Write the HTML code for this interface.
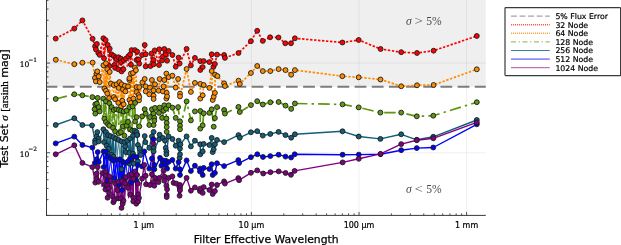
<!DOCTYPE html>
<html><head><meta charset="utf-8"><title>Test Set sigma vs Filter Effective Wavelength</title>
<style>html,body{margin:0;padding:0;background:#fff;width:621px;height:245px;overflow:hidden}svg{display:block}</style>
</head><body>
<svg width="621" height="245" viewBox="0 0 621 245">
<rect x="46.5" y="0" width="439.3" height="86.75" fill="#efefef"/>
<line x1="143.8" y1="0" x2="143.8" y2="215.4" stroke="#000000" stroke-opacity="0.075" stroke-width="0.8"/>
<line x1="251.4" y1="0" x2="251.4" y2="215.4" stroke="#000000" stroke-opacity="0.075" stroke-width="0.8"/>
<line x1="359" y1="0" x2="359" y2="215.4" stroke="#000000" stroke-opacity="0.075" stroke-width="0.8"/>
<line x1="466.6" y1="0" x2="466.6" y2="215.4" stroke="#000000" stroke-opacity="0.075" stroke-width="0.8"/>
<line x1="46.5" y1="63.05" x2="485.8" y2="63.05" stroke="#000000" stroke-opacity="0.075" stroke-width="0.8"/>
<line x1="46.5" y1="152.75" x2="485.8" y2="152.75" stroke="#000000" stroke-opacity="0.075" stroke-width="0.8"/>
<line x1="46.5" y1="86.75" x2="485.8" y2="86.75" stroke="#7c7c7c" stroke-width="2.1" stroke-dasharray="11.8 5.37" stroke-dashoffset="0.95"/>
<path d="M100.5 46.88 L103.5 58.8 L106.5 42.75 L109.5 65.4 L112.5 55.19 L115.5 68.06 L118.5 57.44 L121.5 69.58 L124.5 56.88 L127.5 67.08 L130.5 52.25 L133.5 62.08" fill="none" stroke="#ff0000" stroke-width="1.36" stroke-opacity="0.85" stroke-linejoin="round" stroke-dasharray="2.4 1.6"/>
<path d="M55.7 38.6 L74.3 28.6 L82.4 20.4 L92.6 38.8 L95.1 46.3 L95.9 49.4 L96.9 44 L98.3 53 L99.7 54.9 L103.4 38.3 L104 58.3 L105.6 40.1 L107.7 44.9 L109.4 66.1 L109.7 48.7 L111.6 54.4 L113.7 55.9 L114.4 65 L115.1 67.9 L115.9 57.3 L116.6 59.3 L118.3 69.3 L118.7 57.3 L120.9 58.7 L120.9 62.1 L121.6 71.4 L123.4 69.3 L123.7 60.1 L125.9 58.7 L128.3 56.3 L130.1 54.4 L130.9 64.7 L131.6 50.1 L134.9 50.1 L136.6 60 L137.2 51.7 L138.3 59.6 L139.2 63.7 L142.1 55 L144.7 45 L145.7 54.3 L145.7 66.4 L150.4 66.1 L151.4 53.6 L153.6 64.3 L153.6 60 L154.7 50.4 L159 65 L159.3 49.3 L162.1 60.4 L162.9 56.4 L164.3 49 L165.7 54.3 L167.1 60.7 L168.6 51 L172.4 55 L175.7 66.7 L178.6 57.6 L179.6 63.6 L186.6 48.9 L190.9 65.4 L194.9 57.9 L200.3 61.1 L200.3 70 L202.7 67.1 L203.7 61.1 L209.4 62.1 L211.7 54.3 L213.4 66.9 L214.9 64 L217 54.6 L224.1 55 L224.9 57.9 L238.5 53 L250.9 41.2 L257.2 30.8 L262.8 40.9 L270.1 37.3 L278.5 37.5 L285.3 43.3 L291 43.3 L294.9 38.3 L342.4 42.5 L358.7 40 L380.6 49 L401.2 52.2 L417 53 L433.6 50.7 L476.8 36" fill="none" stroke="#ff0000" stroke-width="1.7" stroke-linejoin="round" stroke-dasharray="2.4 1.6"/>
<path d="M101.5 64.9 L104.6 92.57 L107.7 67.4 L110.8 96.6 L113.9 81.36 L117 100.14 L120.1 85.02 L123.2 102.7 L126.3 84.44 L129.4 101.15 L132.5 75.71 L135.6 96.2" fill="none" stroke="#ff8c00" stroke-width="1.36" stroke-opacity="0.85" stroke-linejoin="round" stroke-dasharray="2.4 1.6"/>
<path d="M55.8 59.8 L74.3 64.2 L82.4 62.7 L92.6 62.6 L94.9 77.9 L95.9 81.4 L96.6 73.6 L97.3 71.4 L98.7 76.4 L99.7 82.1 L103.4 65.3 L104.4 88.6 L105.9 63.3 L105.9 90.7 L107.3 69.3 L107.3 93.6 L109.1 98.1 L109.7 71.9 L110.9 83.6 L113.7 85 L113.7 97.1 L115.1 99.3 L116.6 84.3 L118.3 102.9 L118.7 87.9 L119.4 82.1 L121.1 106.4 L121.6 84.3 L122.3 100.7 L123 89.3 L123.7 104.3 L124.9 85.7 L125.4 91.4 L128 86.4 L129.4 80 L129.4 78.3 L129.4 100 L130.9 73.6 L130.9 102.9 L133 72.9 L133.4 98.6 L134.9 67.6 L135.9 70.2 L136.6 92.1 L136.6 87.1 L138.6 95 L139 100.4 L139.3 87.1 L139.3 97.1 L142.4 82.4 L144.7 79 L145.7 86.4 L145.7 91.4 L149.3 94.3 L150 87.6 L151.9 80 L153.6 90.4 L153.6 95.7 L153.6 99 L155 84.3 L158.6 90.7 L159.6 79 L162.9 91.4 L163.6 86.4 L164.3 80 L166.4 73.6 L166.4 98.6 L166.7 92.9 L167.1 96.4 L168.6 77.1 L172.4 75.7 L175.7 87.6 L178.1 79 L180 93.6 L180 96.4 L186.6 69 L190.9 91.9 L194.9 82.9 L200.3 83.9 L200.3 98.6 L202.7 95.3 L203.7 85 L209.4 87.9 L211.7 71 L212.7 100 L213.7 96.7 L214.9 92.9 L215.1 74.7 L217.4 76.1 L224.1 83.3 L224.9 86.1 L238.5 80.7 L239.8 84 L250.9 73 L257.2 66 L262.8 71.1 L270.3 71.1 L278.6 69.1 L285.5 70.1 L291.2 74.7 L294.9 70.1 L342.3 76.2 L358.7 77.3 L380.5 79.5 L401.2 86.3 L417 85.3 L433.6 85 L476.8 69.3" fill="none" stroke="#ff8c00" stroke-width="1.7" stroke-linejoin="round" stroke-dasharray="2.4 1.6"/>
<path d="M101 99 L103.1 119.87 L105.2 101.33 L107.3 123.6 L109.4 103.67 L111.5 127.31 L113.6 106.16 L115.7 130.99 L117.8 108.68 L119.9 133 L122 109.4 L124.1 133 L126.2 108.14 L128.3 131.59 L130.4 106.8 L132.5 130.5 L134.6 104.7" fill="none" stroke="#5e9610" stroke-width="1.36" stroke-opacity="0.85" stroke-linejoin="round" stroke-dasharray="11.5 4.2 2.4 4.2"/>
<path d="M55.7 99 L74.3 94.3 L82.4 95.3 L92.4 97.1 L94.6 109.3 L95.3 104.3 L95.3 113.6 L96.9 103.6 L97.7 97.9 L98.7 107.1 L99.7 111.4 L103.4 98.6 L104.4 118.6 L105.9 101.4 L105.9 122.1 L108 124.3 L109.4 103.3 L109.4 125.7 L111.6 107.1 L113 127.9 L113.7 110 L115.1 131.4 L116.3 109.3 L118.7 110 L118.7 133.6 L120.9 132.1 L121.1 110.7 L123 126.4 L123.7 111.4 L124.4 135.7 L126.6 110.7 L126.6 125.7 L128 121.9 L129.4 107.1 L130.1 129.3 L132.3 130.7 L132.6 106.4 L135.1 102.9 L135.1 121.4 L136.6 117.1 L137.3 135 L139.3 126.4 L142.1 116.4 L144.7 109.3 L145.7 113.6 L149.3 125 L150 117.1 L151.9 109.3 L153.6 113.6 L153.6 125 L154.3 117.9 L154.3 120.7 L155 107.9 L159 112.9 L159.6 107.6 L162.1 117.9 L163.6 110.7 L164.3 105.3 L166.1 108.6 L166.4 118.6 L166.7 122.9 L166.7 127.1 L166.7 131.9 L168.6 105.3 L172.4 107.6 L175.7 117.9 L178.1 107.1 L180 121.4 L180 125.7 L180 129.3 L186.6 101.4 L190.9 120.4 L194.9 111.4 L200.3 111 L200.3 128.6 L202.7 125.3 L203.7 113.3 L209.4 112.9 L211.7 109.3 L213.7 126.7 L214.9 118.1 L217 107.1 L224.1 110 L224.9 113.6 L238.5 106.9 L239.8 112 L250.9 105.1 L257.2 101.2 L262.8 104.5 L270.3 102.3 L278.6 102 L285.5 105.6 L291.2 108.9 L294.9 103.5 L342.5 104.4 L358.7 107.4 L380.4 112.6 L401.2 112.6 L416.8 116.3 L433.3 115.7 L476.8 102.2" fill="none" stroke="#5e9610" stroke-width="1.7" stroke-linejoin="round" stroke-dasharray="11.5 4.2 2.4 4.2"/>
<path d="M107 137.5 L108.45 151.74 L109.9 137.86 L111.35 155.22 L112.8 138.22 L114.25 156.28 L115.7 138.69 L117.15 156.64 L118.6 139.5 L120.05 156.99 L121.5 140.31 L122.95 156.63 L124.4 140.94 L125.85 156.27 L127.3 140.53 L128.75 155 L130.2 140.11" fill="none" stroke="#135e7a" stroke-width="1.12" stroke-opacity="0.7" stroke-linejoin="round"/>
<path d="M55.7 125 L74.3 118.3 L82.4 125 L92 125.4 L95.1 140.4 L95.1 142.9 L96.6 136.4 L97.3 132.1 L98.7 138.6 L98.7 141.4 L103.4 129.3 L104 142.1 L105.9 132.1 L106.6 145.7 L108 135 L108.5 153.7 L108.7 148.6 L110.6 136.1 L111.5 154.8 L113.4 137.1 L113.4 156.7 L114.9 159.3 L115.9 138.6 L118.7 140 L121.6 141.4 L121.6 169.3 L124.4 142.1 L125.1 146.4 L125.9 152.1 L127.3 140.7 L129.4 152.9 L129.4 163.6 L130.1 138.6 L130.9 159.3 L133 135.7 L133 153.6 L133.7 163.6 L134.4 130.7 L136.6 132.1 L137.1 135 L137.9 145 L137.9 161.4 L139.6 148.6 L140.7 155 L144.7 136.1 L145.3 142.1 L149.3 147.9 L151.9 136.4 L153.6 131.9 L153.6 147.9 L153.6 151.4 L159 139.3 L159.6 134.7 L162.9 137.9 L165 140.7 L165.7 147.9 L166.4 151.4 L166.4 154.3 L168.6 136.4 L172.4 139 L175.7 145.7 L178.6 140.7 L179.6 157.9 L180 148.6 L180 154.3 L180.4 144.3 L186.6 136.4 L190.9 146.4 L194.9 140.7 L200.3 144.3 L200.3 154.3 L202.7 151.4 L203.7 143.9 L209.4 145 L211.7 137.9 L212.7 152.1 L213.7 149.3 L214.9 144.3 L217 140 L224.1 142.1 L238.5 135.1 L239.8 137.7 L250.9 132.3 L257.2 131.2 L262.8 135.6 L270.3 134 L278.6 131.9 L285.5 135.1 L291.2 137.7 L294.9 134.3 L342.5 131.3 L358.7 136.5 L380.4 138.9 L401.2 134.3 L416.8 139.8 L433.3 136.8 L476.8 120" fill="none" stroke="#135e7a" stroke-width="1.4" stroke-linejoin="round"/>
<path d="M103 152 L104.9 170.44 L106.8 155.8 L108.7 175.33 L110.6 158.49 L112.5 177.75 L114.4 160.66 L116.3 178.89 L118.2 161.32 L120.1 180 L122 161.7 L123.9 180 L125.8 161.56 L127.7 180 L129.6 159.44 L131.5 178.12 L133.4 157.33" fill="none" stroke="#0000ff" stroke-width="1.12" stroke-opacity="0.85" stroke-linejoin="round"/>
<path d="M55.7 143.4 L74.3 136.6 L82.4 145 L92.4 147.6 L94.9 162.9 L96.6 159.3 L97.7 152.1 L98.7 162.1 L103.7 151.4 L103.7 167.1 L105.9 151.4 L107.6 180.3 L108 156.4 L110.9 158.6 L113.4 160.7 L114.4 178 L116.6 160 L119 184.8 L119.7 159.3 L122 190.1 L122.3 161.4 L123.5 178 L125.1 162.9 L128 161.4 L130.1 158.6 L131 182.6 L133.7 156.4 L136.4 157.1 L136.4 180.7 L137.9 165 L142.1 166.4 L144.3 151.4 L149.3 168.6 L151.9 158.6 L153.3 139.3 L154.3 165 L154.3 169.3 L160 157.9 L161.4 165.7 L162.9 160.4 L165 165 L165.7 160.7 L167.1 168.6 L168.6 161.9 L172.4 160 L175.7 168.6 L178.6 162.1 L180 169.3 L180 175 L186.6 160.4 L190.9 171 L194.9 165.7 L199.9 171.4 L200.3 168.6 L202.7 175 L203.7 167.9 L209.4 169 L211.7 164.3 L212.7 175 L214.9 172.9 L217 163.3 L224.1 166.1 L238.3 160.1 L239.1 163.1 L250.9 157.2 L257.3 154.3 L263 157 L270.3 156.1 L278.6 154.7 L285.5 156.6 L291.1 157.5 L294.7 154.3 L342.6 154.7 L358.8 154.6 L380.5 154.2 L401.2 150.2 L416.8 148.1 L433.3 147.5 L476.8 124.3" fill="none" stroke="#0000ff" stroke-width="1.4" stroke-linejoin="round"/>
<path d="M100 170 L101.9 186.61 L103.8 172.28 L105.7 191.84 L107.6 174.56 L109.5 195.86 L111.4 176.56 L113.3 198.03 L115.2 178.08 L117.1 199.9 L119 179.6 L120.9 201.53 L122.8 179.16 L124.7 200.31 L126.6 178.02 L128.5 197.94 L130.4 176.67 L132.3 197.77 L134.2 173.5" fill="none" stroke="#800080" stroke-width="1.12" stroke-opacity="0.85" stroke-linejoin="round"/>
<path d="M55.7 154.3 L74.3 145.3 L82.4 162.9 L92.4 167.1 L95.3 182.6 L96.3 178.8 L96.6 173.6 L97.7 167.1 L98.6 181.8 L103 172.9 L104.6 184.8 L105.4 189.4 L105.9 172.1 L105.9 175.7 L107.3 185.6 L107.6 197.7 L108.4 188.6 L109.1 193.1 L109.4 176.4 L110.7 181 L112.9 196.9 L113.4 202.2 L114.4 199.9 L115.2 183.3 L117.5 190.1 L118.2 198.4 L118.2 181.8 L120.5 198.4 L121.5 207.9 L122 181 L122.7 203.7 L123.5 200.7 L125 183.3 L125.9 177.1 L128 187.8 L129.4 175 L130.3 194.6 L131.6 174.3 L133.3 197.7 L133.3 201.4 L133.3 178.8 L135.1 171.4 L136.3 203.7 L137.1 175 L137.9 183.6 L138.1 194.3 L138.1 201.4 L139 197.9 L142.1 178.6 L144.3 165 L145.7 175.7 L146.1 184.3 L150 185 L151.9 174.3 L153.3 143.6 L153.6 182.1 L154.3 185.7 L155 177.9 L158.6 182.1 L159.3 177.9 L163.6 170.7 L164.3 176.4 L164.3 180.7 L166.4 185.7 L166.7 195 L166.7 197.1 L167.1 189.3 L168.6 177.9 L172.4 176.4 L173.6 182.9 L176.4 183.6 L179.6 195.7 L180 185 L180 187.9 L180 190.3 L186.6 177.9 L190.9 190.7 L194.9 187.4 L199.9 191.1 L200.3 188.6 L202.7 192.9 L203.7 187.1 L209.4 190 L211.7 184.5 L212.7 194 L214.9 191.1 L217 185 L224.1 181.4 L224.9 183.6 L238.3 178.1 L239.1 180.2 L250.9 172.8 L257.2 170.4 L263.2 173.5 L270.4 172.2 L278.7 171.4 L285.6 173 L291 174.8 L294.6 170.9 L342.6 162.4 L358.8 158.8 L380.5 153.9 L401.2 144.1 L416.8 140.2 L433.3 138.3 L476.8 122.4" fill="none" stroke="#800080" stroke-width="1.4" stroke-linejoin="round"/>
<circle cx="55.7" cy="38.6" r="2.45" fill="#ff0000" stroke="#1a1a1a" stroke-width="0.9"/>
<circle cx="74.3" cy="28.6" r="2.45" fill="#ff0000" stroke="#1a1a1a" stroke-width="0.9"/>
<circle cx="82.4" cy="20.4" r="2.45" fill="#ff0000" stroke="#1a1a1a" stroke-width="0.9"/>
<circle cx="92.6" cy="38.8" r="2.45" fill="#ff0000" stroke="#1a1a1a" stroke-width="0.9"/>
<circle cx="95.1" cy="46.3" r="2.45" fill="#ff0000" stroke="#1a1a1a" stroke-width="0.9"/>
<circle cx="95.9" cy="49.4" r="2.45" fill="#ff0000" stroke="#1a1a1a" stroke-width="0.9"/>
<circle cx="96.9" cy="44" r="2.45" fill="#ff0000" stroke="#1a1a1a" stroke-width="0.9"/>
<circle cx="98.3" cy="53" r="2.45" fill="#ff0000" stroke="#1a1a1a" stroke-width="0.9"/>
<circle cx="99.7" cy="54.9" r="2.45" fill="#ff0000" stroke="#1a1a1a" stroke-width="0.9"/>
<circle cx="103.4" cy="38.3" r="2.45" fill="#ff0000" stroke="#1a1a1a" stroke-width="0.9"/>
<circle cx="104" cy="58.3" r="2.45" fill="#ff0000" stroke="#1a1a1a" stroke-width="0.9"/>
<circle cx="105.6" cy="40.1" r="2.45" fill="#ff0000" stroke="#1a1a1a" stroke-width="0.9"/>
<circle cx="107.7" cy="44.9" r="2.45" fill="#ff0000" stroke="#1a1a1a" stroke-width="0.9"/>
<circle cx="109.4" cy="66.1" r="2.45" fill="#ff0000" stroke="#1a1a1a" stroke-width="0.9"/>
<circle cx="109.7" cy="48.7" r="2.45" fill="#ff0000" stroke="#1a1a1a" stroke-width="0.9"/>
<circle cx="111.6" cy="54.4" r="2.45" fill="#ff0000" stroke="#1a1a1a" stroke-width="0.9"/>
<circle cx="113.7" cy="55.9" r="2.45" fill="#ff0000" stroke="#1a1a1a" stroke-width="0.9"/>
<circle cx="114.4" cy="65" r="2.45" fill="#ff0000" stroke="#1a1a1a" stroke-width="0.9"/>
<circle cx="115.1" cy="67.9" r="2.45" fill="#ff0000" stroke="#1a1a1a" stroke-width="0.9"/>
<circle cx="115.9" cy="57.3" r="2.45" fill="#ff0000" stroke="#1a1a1a" stroke-width="0.9"/>
<circle cx="116.6" cy="59.3" r="2.45" fill="#ff0000" stroke="#1a1a1a" stroke-width="0.9"/>
<circle cx="118.3" cy="69.3" r="2.45" fill="#ff0000" stroke="#1a1a1a" stroke-width="0.9"/>
<circle cx="118.7" cy="57.3" r="2.45" fill="#ff0000" stroke="#1a1a1a" stroke-width="0.9"/>
<circle cx="120.9" cy="58.7" r="2.45" fill="#ff0000" stroke="#1a1a1a" stroke-width="0.9"/>
<circle cx="120.9" cy="62.1" r="2.45" fill="#ff0000" stroke="#1a1a1a" stroke-width="0.9"/>
<circle cx="121.6" cy="71.4" r="2.45" fill="#ff0000" stroke="#1a1a1a" stroke-width="0.9"/>
<circle cx="123.4" cy="69.3" r="2.45" fill="#ff0000" stroke="#1a1a1a" stroke-width="0.9"/>
<circle cx="123.7" cy="60.1" r="2.45" fill="#ff0000" stroke="#1a1a1a" stroke-width="0.9"/>
<circle cx="125.9" cy="58.7" r="2.45" fill="#ff0000" stroke="#1a1a1a" stroke-width="0.9"/>
<circle cx="128.3" cy="56.3" r="2.45" fill="#ff0000" stroke="#1a1a1a" stroke-width="0.9"/>
<circle cx="130.1" cy="54.4" r="2.45" fill="#ff0000" stroke="#1a1a1a" stroke-width="0.9"/>
<circle cx="130.9" cy="64.7" r="2.45" fill="#ff0000" stroke="#1a1a1a" stroke-width="0.9"/>
<circle cx="131.6" cy="50.1" r="2.45" fill="#ff0000" stroke="#1a1a1a" stroke-width="0.9"/>
<circle cx="134.9" cy="50.1" r="2.45" fill="#ff0000" stroke="#1a1a1a" stroke-width="0.9"/>
<circle cx="136.6" cy="60" r="2.45" fill="#ff0000" stroke="#1a1a1a" stroke-width="0.9"/>
<circle cx="137.2" cy="51.7" r="2.45" fill="#ff0000" stroke="#1a1a1a" stroke-width="0.9"/>
<circle cx="138.3" cy="59.6" r="2.45" fill="#ff0000" stroke="#1a1a1a" stroke-width="0.9"/>
<circle cx="139.2" cy="63.7" r="2.45" fill="#ff0000" stroke="#1a1a1a" stroke-width="0.9"/>
<circle cx="142.1" cy="55" r="2.45" fill="#ff0000" stroke="#1a1a1a" stroke-width="0.9"/>
<circle cx="144.7" cy="45" r="2.45" fill="#ff0000" stroke="#1a1a1a" stroke-width="0.9"/>
<circle cx="145.7" cy="54.3" r="2.45" fill="#ff0000" stroke="#1a1a1a" stroke-width="0.9"/>
<circle cx="145.7" cy="66.4" r="2.45" fill="#ff0000" stroke="#1a1a1a" stroke-width="0.9"/>
<circle cx="150.4" cy="66.1" r="2.45" fill="#ff0000" stroke="#1a1a1a" stroke-width="0.9"/>
<circle cx="151.4" cy="53.6" r="2.45" fill="#ff0000" stroke="#1a1a1a" stroke-width="0.9"/>
<circle cx="153.6" cy="64.3" r="2.45" fill="#ff0000" stroke="#1a1a1a" stroke-width="0.9"/>
<circle cx="153.6" cy="60" r="2.45" fill="#ff0000" stroke="#1a1a1a" stroke-width="0.9"/>
<circle cx="154.7" cy="50.4" r="2.45" fill="#ff0000" stroke="#1a1a1a" stroke-width="0.9"/>
<circle cx="159" cy="65" r="2.45" fill="#ff0000" stroke="#1a1a1a" stroke-width="0.9"/>
<circle cx="159.3" cy="49.3" r="2.45" fill="#ff0000" stroke="#1a1a1a" stroke-width="0.9"/>
<circle cx="162.1" cy="60.4" r="2.45" fill="#ff0000" stroke="#1a1a1a" stroke-width="0.9"/>
<circle cx="162.9" cy="56.4" r="2.45" fill="#ff0000" stroke="#1a1a1a" stroke-width="0.9"/>
<circle cx="164.3" cy="49" r="2.45" fill="#ff0000" stroke="#1a1a1a" stroke-width="0.9"/>
<circle cx="165.7" cy="54.3" r="2.45" fill="#ff0000" stroke="#1a1a1a" stroke-width="0.9"/>
<circle cx="167.1" cy="60.7" r="2.45" fill="#ff0000" stroke="#1a1a1a" stroke-width="0.9"/>
<circle cx="168.6" cy="51" r="2.45" fill="#ff0000" stroke="#1a1a1a" stroke-width="0.9"/>
<circle cx="172.4" cy="55" r="2.45" fill="#ff0000" stroke="#1a1a1a" stroke-width="0.9"/>
<circle cx="175.7" cy="66.7" r="2.45" fill="#ff0000" stroke="#1a1a1a" stroke-width="0.9"/>
<circle cx="178.6" cy="57.6" r="2.45" fill="#ff0000" stroke="#1a1a1a" stroke-width="0.9"/>
<circle cx="179.6" cy="63.6" r="2.45" fill="#ff0000" stroke="#1a1a1a" stroke-width="0.9"/>
<circle cx="186.6" cy="48.9" r="2.45" fill="#ff0000" stroke="#1a1a1a" stroke-width="0.9"/>
<circle cx="190.9" cy="65.4" r="2.45" fill="#ff0000" stroke="#1a1a1a" stroke-width="0.9"/>
<circle cx="194.9" cy="57.9" r="2.45" fill="#ff0000" stroke="#1a1a1a" stroke-width="0.9"/>
<circle cx="200.3" cy="61.1" r="2.45" fill="#ff0000" stroke="#1a1a1a" stroke-width="0.9"/>
<circle cx="200.3" cy="70" r="2.45" fill="#ff0000" stroke="#1a1a1a" stroke-width="0.9"/>
<circle cx="202.7" cy="67.1" r="2.45" fill="#ff0000" stroke="#1a1a1a" stroke-width="0.9"/>
<circle cx="203.7" cy="61.1" r="2.45" fill="#ff0000" stroke="#1a1a1a" stroke-width="0.9"/>
<circle cx="209.4" cy="62.1" r="2.45" fill="#ff0000" stroke="#1a1a1a" stroke-width="0.9"/>
<circle cx="211.7" cy="54.3" r="2.45" fill="#ff0000" stroke="#1a1a1a" stroke-width="0.9"/>
<circle cx="213.4" cy="66.9" r="2.45" fill="#ff0000" stroke="#1a1a1a" stroke-width="0.9"/>
<circle cx="214.9" cy="64" r="2.45" fill="#ff0000" stroke="#1a1a1a" stroke-width="0.9"/>
<circle cx="217" cy="54.6" r="2.45" fill="#ff0000" stroke="#1a1a1a" stroke-width="0.9"/>
<circle cx="224.1" cy="55" r="2.45" fill="#ff0000" stroke="#1a1a1a" stroke-width="0.9"/>
<circle cx="224.9" cy="57.9" r="2.45" fill="#ff0000" stroke="#1a1a1a" stroke-width="0.9"/>
<circle cx="238.5" cy="53" r="2.45" fill="#ff0000" stroke="#1a1a1a" stroke-width="0.9"/>
<circle cx="250.9" cy="41.2" r="2.45" fill="#ff0000" stroke="#1a1a1a" stroke-width="0.9"/>
<circle cx="257.2" cy="30.8" r="2.45" fill="#ff0000" stroke="#1a1a1a" stroke-width="0.9"/>
<circle cx="262.8" cy="40.9" r="2.45" fill="#ff0000" stroke="#1a1a1a" stroke-width="0.9"/>
<circle cx="270.1" cy="37.3" r="2.45" fill="#ff0000" stroke="#1a1a1a" stroke-width="0.9"/>
<circle cx="278.5" cy="37.5" r="2.45" fill="#ff0000" stroke="#1a1a1a" stroke-width="0.9"/>
<circle cx="285.3" cy="43.3" r="2.45" fill="#ff0000" stroke="#1a1a1a" stroke-width="0.9"/>
<circle cx="291" cy="43.3" r="2.45" fill="#ff0000" stroke="#1a1a1a" stroke-width="0.9"/>
<circle cx="294.9" cy="38.3" r="2.45" fill="#ff0000" stroke="#1a1a1a" stroke-width="0.9"/>
<circle cx="342.4" cy="42.5" r="2.45" fill="#ff0000" stroke="#1a1a1a" stroke-width="0.9"/>
<circle cx="358.7" cy="40" r="2.45" fill="#ff0000" stroke="#1a1a1a" stroke-width="0.9"/>
<circle cx="380.6" cy="49" r="2.45" fill="#ff0000" stroke="#1a1a1a" stroke-width="0.9"/>
<circle cx="401.2" cy="52.2" r="2.45" fill="#ff0000" stroke="#1a1a1a" stroke-width="0.9"/>
<circle cx="417" cy="53" r="2.45" fill="#ff0000" stroke="#1a1a1a" stroke-width="0.9"/>
<circle cx="433.6" cy="50.7" r="2.45" fill="#ff0000" stroke="#1a1a1a" stroke-width="0.9"/>
<circle cx="476.8" cy="36" r="2.45" fill="#ff0000" stroke="#1a1a1a" stroke-width="0.9"/>
<circle cx="55.8" cy="59.8" r="2.45" fill="#ff8c00" stroke="#1a1a1a" stroke-width="0.9"/>
<circle cx="74.3" cy="64.2" r="2.45" fill="#ff8c00" stroke="#1a1a1a" stroke-width="0.9"/>
<circle cx="82.4" cy="62.7" r="2.45" fill="#ff8c00" stroke="#1a1a1a" stroke-width="0.9"/>
<circle cx="92.6" cy="62.6" r="2.45" fill="#ff8c00" stroke="#1a1a1a" stroke-width="0.9"/>
<circle cx="94.9" cy="77.9" r="2.45" fill="#ff8c00" stroke="#1a1a1a" stroke-width="0.9"/>
<circle cx="95.9" cy="81.4" r="2.45" fill="#ff8c00" stroke="#1a1a1a" stroke-width="0.9"/>
<circle cx="96.6" cy="73.6" r="2.45" fill="#ff8c00" stroke="#1a1a1a" stroke-width="0.9"/>
<circle cx="97.3" cy="71.4" r="2.45" fill="#ff8c00" stroke="#1a1a1a" stroke-width="0.9"/>
<circle cx="98.7" cy="76.4" r="2.45" fill="#ff8c00" stroke="#1a1a1a" stroke-width="0.9"/>
<circle cx="99.7" cy="82.1" r="2.45" fill="#ff8c00" stroke="#1a1a1a" stroke-width="0.9"/>
<circle cx="103.4" cy="65.3" r="2.45" fill="#ff8c00" stroke="#1a1a1a" stroke-width="0.9"/>
<circle cx="104.4" cy="88.6" r="2.45" fill="#ff8c00" stroke="#1a1a1a" stroke-width="0.9"/>
<circle cx="105.9" cy="63.3" r="2.45" fill="#ff8c00" stroke="#1a1a1a" stroke-width="0.9"/>
<circle cx="105.9" cy="90.7" r="2.45" fill="#ff8c00" stroke="#1a1a1a" stroke-width="0.9"/>
<circle cx="107.3" cy="69.3" r="2.45" fill="#ff8c00" stroke="#1a1a1a" stroke-width="0.9"/>
<circle cx="107.3" cy="93.6" r="2.45" fill="#ff8c00" stroke="#1a1a1a" stroke-width="0.9"/>
<circle cx="109.1" cy="98.1" r="2.45" fill="#ff8c00" stroke="#1a1a1a" stroke-width="0.9"/>
<circle cx="109.7" cy="71.9" r="2.45" fill="#ff8c00" stroke="#1a1a1a" stroke-width="0.9"/>
<circle cx="110.9" cy="83.6" r="2.45" fill="#ff8c00" stroke="#1a1a1a" stroke-width="0.9"/>
<circle cx="113.7" cy="85" r="2.45" fill="#ff8c00" stroke="#1a1a1a" stroke-width="0.9"/>
<circle cx="113.7" cy="97.1" r="2.45" fill="#ff8c00" stroke="#1a1a1a" stroke-width="0.9"/>
<circle cx="115.1" cy="99.3" r="2.45" fill="#ff8c00" stroke="#1a1a1a" stroke-width="0.9"/>
<circle cx="116.6" cy="84.3" r="2.45" fill="#ff8c00" stroke="#1a1a1a" stroke-width="0.9"/>
<circle cx="118.3" cy="102.9" r="2.45" fill="#ff8c00" stroke="#1a1a1a" stroke-width="0.9"/>
<circle cx="118.7" cy="87.9" r="2.45" fill="#ff8c00" stroke="#1a1a1a" stroke-width="0.9"/>
<circle cx="119.4" cy="82.1" r="2.45" fill="#ff8c00" stroke="#1a1a1a" stroke-width="0.9"/>
<circle cx="121.1" cy="106.4" r="2.45" fill="#ff8c00" stroke="#1a1a1a" stroke-width="0.9"/>
<circle cx="121.6" cy="84.3" r="2.45" fill="#ff8c00" stroke="#1a1a1a" stroke-width="0.9"/>
<circle cx="122.3" cy="100.7" r="2.45" fill="#ff8c00" stroke="#1a1a1a" stroke-width="0.9"/>
<circle cx="123" cy="89.3" r="2.45" fill="#ff8c00" stroke="#1a1a1a" stroke-width="0.9"/>
<circle cx="123.7" cy="104.3" r="2.45" fill="#ff8c00" stroke="#1a1a1a" stroke-width="0.9"/>
<circle cx="124.9" cy="85.7" r="2.45" fill="#ff8c00" stroke="#1a1a1a" stroke-width="0.9"/>
<circle cx="125.4" cy="91.4" r="2.45" fill="#ff8c00" stroke="#1a1a1a" stroke-width="0.9"/>
<circle cx="128" cy="86.4" r="2.45" fill="#ff8c00" stroke="#1a1a1a" stroke-width="0.9"/>
<circle cx="129.4" cy="80" r="2.45" fill="#ff8c00" stroke="#1a1a1a" stroke-width="0.9"/>
<circle cx="129.4" cy="78.3" r="2.45" fill="#ff8c00" stroke="#1a1a1a" stroke-width="0.9"/>
<circle cx="129.4" cy="100" r="2.45" fill="#ff8c00" stroke="#1a1a1a" stroke-width="0.9"/>
<circle cx="130.9" cy="73.6" r="2.45" fill="#ff8c00" stroke="#1a1a1a" stroke-width="0.9"/>
<circle cx="130.9" cy="102.9" r="2.45" fill="#ff8c00" stroke="#1a1a1a" stroke-width="0.9"/>
<circle cx="133" cy="72.9" r="2.45" fill="#ff8c00" stroke="#1a1a1a" stroke-width="0.9"/>
<circle cx="133.4" cy="98.6" r="2.45" fill="#ff8c00" stroke="#1a1a1a" stroke-width="0.9"/>
<circle cx="134.9" cy="67.6" r="2.45" fill="#ff8c00" stroke="#1a1a1a" stroke-width="0.9"/>
<circle cx="135.9" cy="70.2" r="2.45" fill="#ff8c00" stroke="#1a1a1a" stroke-width="0.9"/>
<circle cx="136.6" cy="92.1" r="2.45" fill="#ff8c00" stroke="#1a1a1a" stroke-width="0.9"/>
<circle cx="136.6" cy="87.1" r="2.45" fill="#ff8c00" stroke="#1a1a1a" stroke-width="0.9"/>
<circle cx="138.6" cy="95" r="2.45" fill="#ff8c00" stroke="#1a1a1a" stroke-width="0.9"/>
<circle cx="139" cy="100.4" r="2.45" fill="#ff8c00" stroke="#1a1a1a" stroke-width="0.9"/>
<circle cx="139.3" cy="87.1" r="2.45" fill="#ff8c00" stroke="#1a1a1a" stroke-width="0.9"/>
<circle cx="139.3" cy="97.1" r="2.45" fill="#ff8c00" stroke="#1a1a1a" stroke-width="0.9"/>
<circle cx="142.4" cy="82.4" r="2.45" fill="#ff8c00" stroke="#1a1a1a" stroke-width="0.9"/>
<circle cx="144.7" cy="79" r="2.45" fill="#ff8c00" stroke="#1a1a1a" stroke-width="0.9"/>
<circle cx="145.7" cy="86.4" r="2.45" fill="#ff8c00" stroke="#1a1a1a" stroke-width="0.9"/>
<circle cx="145.7" cy="91.4" r="2.45" fill="#ff8c00" stroke="#1a1a1a" stroke-width="0.9"/>
<circle cx="149.3" cy="94.3" r="2.45" fill="#ff8c00" stroke="#1a1a1a" stroke-width="0.9"/>
<circle cx="150" cy="87.6" r="2.45" fill="#ff8c00" stroke="#1a1a1a" stroke-width="0.9"/>
<circle cx="151.9" cy="80" r="2.45" fill="#ff8c00" stroke="#1a1a1a" stroke-width="0.9"/>
<circle cx="153.6" cy="90.4" r="2.45" fill="#ff8c00" stroke="#1a1a1a" stroke-width="0.9"/>
<circle cx="153.6" cy="95.7" r="2.45" fill="#ff8c00" stroke="#1a1a1a" stroke-width="0.9"/>
<circle cx="153.6" cy="99" r="2.45" fill="#ff8c00" stroke="#1a1a1a" stroke-width="0.9"/>
<circle cx="155" cy="84.3" r="2.45" fill="#ff8c00" stroke="#1a1a1a" stroke-width="0.9"/>
<circle cx="158.6" cy="90.7" r="2.45" fill="#ff8c00" stroke="#1a1a1a" stroke-width="0.9"/>
<circle cx="159.6" cy="79" r="2.45" fill="#ff8c00" stroke="#1a1a1a" stroke-width="0.9"/>
<circle cx="162.9" cy="91.4" r="2.45" fill="#ff8c00" stroke="#1a1a1a" stroke-width="0.9"/>
<circle cx="163.6" cy="86.4" r="2.45" fill="#ff8c00" stroke="#1a1a1a" stroke-width="0.9"/>
<circle cx="164.3" cy="80" r="2.45" fill="#ff8c00" stroke="#1a1a1a" stroke-width="0.9"/>
<circle cx="166.4" cy="73.6" r="2.45" fill="#ff8c00" stroke="#1a1a1a" stroke-width="0.9"/>
<circle cx="166.4" cy="98.6" r="2.45" fill="#ff8c00" stroke="#1a1a1a" stroke-width="0.9"/>
<circle cx="166.7" cy="92.9" r="2.45" fill="#ff8c00" stroke="#1a1a1a" stroke-width="0.9"/>
<circle cx="167.1" cy="96.4" r="2.45" fill="#ff8c00" stroke="#1a1a1a" stroke-width="0.9"/>
<circle cx="168.6" cy="77.1" r="2.45" fill="#ff8c00" stroke="#1a1a1a" stroke-width="0.9"/>
<circle cx="172.4" cy="75.7" r="2.45" fill="#ff8c00" stroke="#1a1a1a" stroke-width="0.9"/>
<circle cx="175.7" cy="87.6" r="2.45" fill="#ff8c00" stroke="#1a1a1a" stroke-width="0.9"/>
<circle cx="178.1" cy="79" r="2.45" fill="#ff8c00" stroke="#1a1a1a" stroke-width="0.9"/>
<circle cx="180" cy="93.6" r="2.45" fill="#ff8c00" stroke="#1a1a1a" stroke-width="0.9"/>
<circle cx="180" cy="96.4" r="2.45" fill="#ff8c00" stroke="#1a1a1a" stroke-width="0.9"/>
<circle cx="186.6" cy="69" r="2.45" fill="#ff8c00" stroke="#1a1a1a" stroke-width="0.9"/>
<circle cx="190.9" cy="91.9" r="2.45" fill="#ff8c00" stroke="#1a1a1a" stroke-width="0.9"/>
<circle cx="194.9" cy="82.9" r="2.45" fill="#ff8c00" stroke="#1a1a1a" stroke-width="0.9"/>
<circle cx="200.3" cy="83.9" r="2.45" fill="#ff8c00" stroke="#1a1a1a" stroke-width="0.9"/>
<circle cx="200.3" cy="98.6" r="2.45" fill="#ff8c00" stroke="#1a1a1a" stroke-width="0.9"/>
<circle cx="202.7" cy="95.3" r="2.45" fill="#ff8c00" stroke="#1a1a1a" stroke-width="0.9"/>
<circle cx="203.7" cy="85" r="2.45" fill="#ff8c00" stroke="#1a1a1a" stroke-width="0.9"/>
<circle cx="209.4" cy="87.9" r="2.45" fill="#ff8c00" stroke="#1a1a1a" stroke-width="0.9"/>
<circle cx="211.7" cy="71" r="2.45" fill="#ff8c00" stroke="#1a1a1a" stroke-width="0.9"/>
<circle cx="212.7" cy="100" r="2.45" fill="#ff8c00" stroke="#1a1a1a" stroke-width="0.9"/>
<circle cx="213.7" cy="96.7" r="2.45" fill="#ff8c00" stroke="#1a1a1a" stroke-width="0.9"/>
<circle cx="214.9" cy="92.9" r="2.45" fill="#ff8c00" stroke="#1a1a1a" stroke-width="0.9"/>
<circle cx="215.1" cy="74.7" r="2.45" fill="#ff8c00" stroke="#1a1a1a" stroke-width="0.9"/>
<circle cx="217.4" cy="76.1" r="2.45" fill="#ff8c00" stroke="#1a1a1a" stroke-width="0.9"/>
<circle cx="224.1" cy="83.3" r="2.45" fill="#ff8c00" stroke="#1a1a1a" stroke-width="0.9"/>
<circle cx="224.9" cy="86.1" r="2.45" fill="#ff8c00" stroke="#1a1a1a" stroke-width="0.9"/>
<circle cx="238.5" cy="80.7" r="2.45" fill="#ff8c00" stroke="#1a1a1a" stroke-width="0.9"/>
<circle cx="239.8" cy="84" r="2.45" fill="#ff8c00" stroke="#1a1a1a" stroke-width="0.9"/>
<circle cx="250.9" cy="73" r="2.45" fill="#ff8c00" stroke="#1a1a1a" stroke-width="0.9"/>
<circle cx="257.2" cy="66" r="2.45" fill="#ff8c00" stroke="#1a1a1a" stroke-width="0.9"/>
<circle cx="262.8" cy="71.1" r="2.45" fill="#ff8c00" stroke="#1a1a1a" stroke-width="0.9"/>
<circle cx="270.3" cy="71.1" r="2.45" fill="#ff8c00" stroke="#1a1a1a" stroke-width="0.9"/>
<circle cx="278.6" cy="69.1" r="2.45" fill="#ff8c00" stroke="#1a1a1a" stroke-width="0.9"/>
<circle cx="285.5" cy="70.1" r="2.45" fill="#ff8c00" stroke="#1a1a1a" stroke-width="0.9"/>
<circle cx="291.2" cy="74.7" r="2.45" fill="#ff8c00" stroke="#1a1a1a" stroke-width="0.9"/>
<circle cx="294.9" cy="70.1" r="2.45" fill="#ff8c00" stroke="#1a1a1a" stroke-width="0.9"/>
<circle cx="342.3" cy="76.2" r="2.45" fill="#ff8c00" stroke="#1a1a1a" stroke-width="0.9"/>
<circle cx="358.7" cy="77.3" r="2.45" fill="#ff8c00" stroke="#1a1a1a" stroke-width="0.9"/>
<circle cx="380.5" cy="79.5" r="2.45" fill="#ff8c00" stroke="#1a1a1a" stroke-width="0.9"/>
<circle cx="401.2" cy="86.3" r="2.45" fill="#ff8c00" stroke="#1a1a1a" stroke-width="0.9"/>
<circle cx="417" cy="85.3" r="2.45" fill="#ff8c00" stroke="#1a1a1a" stroke-width="0.9"/>
<circle cx="433.6" cy="85" r="2.45" fill="#ff8c00" stroke="#1a1a1a" stroke-width="0.9"/>
<circle cx="476.8" cy="69.3" r="2.45" fill="#ff8c00" stroke="#1a1a1a" stroke-width="0.9"/>
<circle cx="55.7" cy="99" r="2.45" fill="#5e9610" stroke="#1a1a1a" stroke-width="0.9"/>
<circle cx="74.3" cy="94.3" r="2.45" fill="#5e9610" stroke="#1a1a1a" stroke-width="0.9"/>
<circle cx="82.4" cy="95.3" r="2.45" fill="#5e9610" stroke="#1a1a1a" stroke-width="0.9"/>
<circle cx="92.4" cy="97.1" r="2.45" fill="#5e9610" stroke="#1a1a1a" stroke-width="0.9"/>
<circle cx="94.6" cy="109.3" r="2.45" fill="#5e9610" stroke="#1a1a1a" stroke-width="0.9"/>
<circle cx="95.3" cy="104.3" r="2.45" fill="#5e9610" stroke="#1a1a1a" stroke-width="0.9"/>
<circle cx="95.3" cy="113.6" r="2.45" fill="#5e9610" stroke="#1a1a1a" stroke-width="0.9"/>
<circle cx="96.9" cy="103.6" r="2.45" fill="#5e9610" stroke="#1a1a1a" stroke-width="0.9"/>
<circle cx="97.7" cy="97.9" r="2.45" fill="#5e9610" stroke="#1a1a1a" stroke-width="0.9"/>
<circle cx="98.7" cy="107.1" r="2.45" fill="#5e9610" stroke="#1a1a1a" stroke-width="0.9"/>
<circle cx="99.7" cy="111.4" r="2.45" fill="#5e9610" stroke="#1a1a1a" stroke-width="0.9"/>
<circle cx="103.4" cy="98.6" r="2.45" fill="#5e9610" stroke="#1a1a1a" stroke-width="0.9"/>
<circle cx="104.4" cy="118.6" r="2.45" fill="#5e9610" stroke="#1a1a1a" stroke-width="0.9"/>
<circle cx="105.9" cy="101.4" r="2.45" fill="#5e9610" stroke="#1a1a1a" stroke-width="0.9"/>
<circle cx="105.9" cy="122.1" r="2.45" fill="#5e9610" stroke="#1a1a1a" stroke-width="0.9"/>
<circle cx="108" cy="124.3" r="2.45" fill="#5e9610" stroke="#1a1a1a" stroke-width="0.9"/>
<circle cx="109.4" cy="103.3" r="2.45" fill="#5e9610" stroke="#1a1a1a" stroke-width="0.9"/>
<circle cx="109.4" cy="125.7" r="2.45" fill="#5e9610" stroke="#1a1a1a" stroke-width="0.9"/>
<circle cx="111.6" cy="107.1" r="2.45" fill="#5e9610" stroke="#1a1a1a" stroke-width="0.9"/>
<circle cx="113" cy="127.9" r="2.45" fill="#5e9610" stroke="#1a1a1a" stroke-width="0.9"/>
<circle cx="113.7" cy="110" r="2.45" fill="#5e9610" stroke="#1a1a1a" stroke-width="0.9"/>
<circle cx="115.1" cy="131.4" r="2.45" fill="#5e9610" stroke="#1a1a1a" stroke-width="0.9"/>
<circle cx="116.3" cy="109.3" r="2.45" fill="#5e9610" stroke="#1a1a1a" stroke-width="0.9"/>
<circle cx="118.7" cy="110" r="2.45" fill="#5e9610" stroke="#1a1a1a" stroke-width="0.9"/>
<circle cx="118.7" cy="133.6" r="2.45" fill="#5e9610" stroke="#1a1a1a" stroke-width="0.9"/>
<circle cx="120.9" cy="132.1" r="2.45" fill="#5e9610" stroke="#1a1a1a" stroke-width="0.9"/>
<circle cx="121.1" cy="110.7" r="2.45" fill="#5e9610" stroke="#1a1a1a" stroke-width="0.9"/>
<circle cx="123" cy="126.4" r="2.45" fill="#5e9610" stroke="#1a1a1a" stroke-width="0.9"/>
<circle cx="123.7" cy="111.4" r="2.45" fill="#5e9610" stroke="#1a1a1a" stroke-width="0.9"/>
<circle cx="124.4" cy="135.7" r="2.45" fill="#5e9610" stroke="#1a1a1a" stroke-width="0.9"/>
<circle cx="126.6" cy="110.7" r="2.45" fill="#5e9610" stroke="#1a1a1a" stroke-width="0.9"/>
<circle cx="126.6" cy="125.7" r="2.45" fill="#5e9610" stroke="#1a1a1a" stroke-width="0.9"/>
<circle cx="128" cy="121.9" r="2.45" fill="#5e9610" stroke="#1a1a1a" stroke-width="0.9"/>
<circle cx="129.4" cy="107.1" r="2.45" fill="#5e9610" stroke="#1a1a1a" stroke-width="0.9"/>
<circle cx="130.1" cy="129.3" r="2.45" fill="#5e9610" stroke="#1a1a1a" stroke-width="0.9"/>
<circle cx="132.3" cy="130.7" r="2.45" fill="#5e9610" stroke="#1a1a1a" stroke-width="0.9"/>
<circle cx="132.6" cy="106.4" r="2.45" fill="#5e9610" stroke="#1a1a1a" stroke-width="0.9"/>
<circle cx="135.1" cy="102.9" r="2.45" fill="#5e9610" stroke="#1a1a1a" stroke-width="0.9"/>
<circle cx="135.1" cy="121.4" r="2.45" fill="#5e9610" stroke="#1a1a1a" stroke-width="0.9"/>
<circle cx="136.6" cy="117.1" r="2.45" fill="#5e9610" stroke="#1a1a1a" stroke-width="0.9"/>
<circle cx="137.3" cy="135" r="2.45" fill="#5e9610" stroke="#1a1a1a" stroke-width="0.9"/>
<circle cx="139.3" cy="126.4" r="2.45" fill="#5e9610" stroke="#1a1a1a" stroke-width="0.9"/>
<circle cx="142.1" cy="116.4" r="2.45" fill="#5e9610" stroke="#1a1a1a" stroke-width="0.9"/>
<circle cx="144.7" cy="109.3" r="2.45" fill="#5e9610" stroke="#1a1a1a" stroke-width="0.9"/>
<circle cx="145.7" cy="113.6" r="2.45" fill="#5e9610" stroke="#1a1a1a" stroke-width="0.9"/>
<circle cx="149.3" cy="125" r="2.45" fill="#5e9610" stroke="#1a1a1a" stroke-width="0.9"/>
<circle cx="150" cy="117.1" r="2.45" fill="#5e9610" stroke="#1a1a1a" stroke-width="0.9"/>
<circle cx="151.9" cy="109.3" r="2.45" fill="#5e9610" stroke="#1a1a1a" stroke-width="0.9"/>
<circle cx="153.6" cy="113.6" r="2.45" fill="#5e9610" stroke="#1a1a1a" stroke-width="0.9"/>
<circle cx="153.6" cy="125" r="2.45" fill="#5e9610" stroke="#1a1a1a" stroke-width="0.9"/>
<circle cx="154.3" cy="117.9" r="2.45" fill="#5e9610" stroke="#1a1a1a" stroke-width="0.9"/>
<circle cx="154.3" cy="120.7" r="2.45" fill="#5e9610" stroke="#1a1a1a" stroke-width="0.9"/>
<circle cx="155" cy="107.9" r="2.45" fill="#5e9610" stroke="#1a1a1a" stroke-width="0.9"/>
<circle cx="159" cy="112.9" r="2.45" fill="#5e9610" stroke="#1a1a1a" stroke-width="0.9"/>
<circle cx="159.6" cy="107.6" r="2.45" fill="#5e9610" stroke="#1a1a1a" stroke-width="0.9"/>
<circle cx="162.1" cy="117.9" r="2.45" fill="#5e9610" stroke="#1a1a1a" stroke-width="0.9"/>
<circle cx="163.6" cy="110.7" r="2.45" fill="#5e9610" stroke="#1a1a1a" stroke-width="0.9"/>
<circle cx="164.3" cy="105.3" r="2.45" fill="#5e9610" stroke="#1a1a1a" stroke-width="0.9"/>
<circle cx="166.1" cy="108.6" r="2.45" fill="#5e9610" stroke="#1a1a1a" stroke-width="0.9"/>
<circle cx="166.4" cy="118.6" r="2.45" fill="#5e9610" stroke="#1a1a1a" stroke-width="0.9"/>
<circle cx="166.7" cy="122.9" r="2.45" fill="#5e9610" stroke="#1a1a1a" stroke-width="0.9"/>
<circle cx="166.7" cy="127.1" r="2.45" fill="#5e9610" stroke="#1a1a1a" stroke-width="0.9"/>
<circle cx="166.7" cy="131.9" r="2.45" fill="#5e9610" stroke="#1a1a1a" stroke-width="0.9"/>
<circle cx="168.6" cy="105.3" r="2.45" fill="#5e9610" stroke="#1a1a1a" stroke-width="0.9"/>
<circle cx="172.4" cy="107.6" r="2.45" fill="#5e9610" stroke="#1a1a1a" stroke-width="0.9"/>
<circle cx="175.7" cy="117.9" r="2.45" fill="#5e9610" stroke="#1a1a1a" stroke-width="0.9"/>
<circle cx="178.1" cy="107.1" r="2.45" fill="#5e9610" stroke="#1a1a1a" stroke-width="0.9"/>
<circle cx="180" cy="121.4" r="2.45" fill="#5e9610" stroke="#1a1a1a" stroke-width="0.9"/>
<circle cx="180" cy="125.7" r="2.45" fill="#5e9610" stroke="#1a1a1a" stroke-width="0.9"/>
<circle cx="180" cy="129.3" r="2.45" fill="#5e9610" stroke="#1a1a1a" stroke-width="0.9"/>
<circle cx="186.6" cy="101.4" r="2.45" fill="#5e9610" stroke="#1a1a1a" stroke-width="0.9"/>
<circle cx="190.9" cy="120.4" r="2.45" fill="#5e9610" stroke="#1a1a1a" stroke-width="0.9"/>
<circle cx="194.9" cy="111.4" r="2.45" fill="#5e9610" stroke="#1a1a1a" stroke-width="0.9"/>
<circle cx="200.3" cy="111" r="2.45" fill="#5e9610" stroke="#1a1a1a" stroke-width="0.9"/>
<circle cx="200.3" cy="128.6" r="2.45" fill="#5e9610" stroke="#1a1a1a" stroke-width="0.9"/>
<circle cx="202.7" cy="125.3" r="2.45" fill="#5e9610" stroke="#1a1a1a" stroke-width="0.9"/>
<circle cx="203.7" cy="113.3" r="2.45" fill="#5e9610" stroke="#1a1a1a" stroke-width="0.9"/>
<circle cx="209.4" cy="112.9" r="2.45" fill="#5e9610" stroke="#1a1a1a" stroke-width="0.9"/>
<circle cx="211.7" cy="109.3" r="2.45" fill="#5e9610" stroke="#1a1a1a" stroke-width="0.9"/>
<circle cx="213.7" cy="126.7" r="2.45" fill="#5e9610" stroke="#1a1a1a" stroke-width="0.9"/>
<circle cx="214.9" cy="118.1" r="2.45" fill="#5e9610" stroke="#1a1a1a" stroke-width="0.9"/>
<circle cx="217" cy="107.1" r="2.45" fill="#5e9610" stroke="#1a1a1a" stroke-width="0.9"/>
<circle cx="224.1" cy="110" r="2.45" fill="#5e9610" stroke="#1a1a1a" stroke-width="0.9"/>
<circle cx="224.9" cy="113.6" r="2.45" fill="#5e9610" stroke="#1a1a1a" stroke-width="0.9"/>
<circle cx="238.5" cy="106.9" r="2.45" fill="#5e9610" stroke="#1a1a1a" stroke-width="0.9"/>
<circle cx="239.8" cy="112" r="2.45" fill="#5e9610" stroke="#1a1a1a" stroke-width="0.9"/>
<circle cx="250.9" cy="105.1" r="2.45" fill="#5e9610" stroke="#1a1a1a" stroke-width="0.9"/>
<circle cx="257.2" cy="101.2" r="2.45" fill="#5e9610" stroke="#1a1a1a" stroke-width="0.9"/>
<circle cx="262.8" cy="104.5" r="2.45" fill="#5e9610" stroke="#1a1a1a" stroke-width="0.9"/>
<circle cx="270.3" cy="102.3" r="2.45" fill="#5e9610" stroke="#1a1a1a" stroke-width="0.9"/>
<circle cx="278.6" cy="102" r="2.45" fill="#5e9610" stroke="#1a1a1a" stroke-width="0.9"/>
<circle cx="285.5" cy="105.6" r="2.45" fill="#5e9610" stroke="#1a1a1a" stroke-width="0.9"/>
<circle cx="291.2" cy="108.9" r="2.45" fill="#5e9610" stroke="#1a1a1a" stroke-width="0.9"/>
<circle cx="294.9" cy="103.5" r="2.45" fill="#5e9610" stroke="#1a1a1a" stroke-width="0.9"/>
<circle cx="342.5" cy="104.4" r="2.45" fill="#5e9610" stroke="#1a1a1a" stroke-width="0.9"/>
<circle cx="358.7" cy="107.4" r="2.45" fill="#5e9610" stroke="#1a1a1a" stroke-width="0.9"/>
<circle cx="380.4" cy="112.6" r="2.45" fill="#5e9610" stroke="#1a1a1a" stroke-width="0.9"/>
<circle cx="401.2" cy="112.6" r="2.45" fill="#5e9610" stroke="#1a1a1a" stroke-width="0.9"/>
<circle cx="416.8" cy="116.3" r="2.45" fill="#5e9610" stroke="#1a1a1a" stroke-width="0.9"/>
<circle cx="433.3" cy="115.7" r="2.45" fill="#5e9610" stroke="#1a1a1a" stroke-width="0.9"/>
<circle cx="476.8" cy="102.2" r="2.45" fill="#5e9610" stroke="#1a1a1a" stroke-width="0.9"/>
<circle cx="55.7" cy="125" r="2.45" fill="#135e7a" stroke="#1a1a1a" stroke-width="0.9"/>
<circle cx="74.3" cy="118.3" r="2.45" fill="#135e7a" stroke="#1a1a1a" stroke-width="0.9"/>
<circle cx="82.4" cy="125" r="2.45" fill="#135e7a" stroke="#1a1a1a" stroke-width="0.9"/>
<circle cx="92" cy="125.4" r="2.45" fill="#135e7a" stroke="#1a1a1a" stroke-width="0.9"/>
<circle cx="95.1" cy="140.4" r="2.45" fill="#135e7a" stroke="#1a1a1a" stroke-width="0.9"/>
<circle cx="95.1" cy="142.9" r="2.45" fill="#135e7a" stroke="#1a1a1a" stroke-width="0.9"/>
<circle cx="96.6" cy="136.4" r="2.45" fill="#135e7a" stroke="#1a1a1a" stroke-width="0.9"/>
<circle cx="97.3" cy="132.1" r="2.45" fill="#135e7a" stroke="#1a1a1a" stroke-width="0.9"/>
<circle cx="98.7" cy="138.6" r="2.45" fill="#135e7a" stroke="#1a1a1a" stroke-width="0.9"/>
<circle cx="98.7" cy="141.4" r="2.45" fill="#135e7a" stroke="#1a1a1a" stroke-width="0.9"/>
<circle cx="103.4" cy="129.3" r="2.45" fill="#135e7a" stroke="#1a1a1a" stroke-width="0.9"/>
<circle cx="104" cy="142.1" r="2.45" fill="#135e7a" stroke="#1a1a1a" stroke-width="0.9"/>
<circle cx="105.9" cy="132.1" r="2.45" fill="#135e7a" stroke="#1a1a1a" stroke-width="0.9"/>
<circle cx="106.6" cy="145.7" r="2.45" fill="#135e7a" stroke="#1a1a1a" stroke-width="0.9"/>
<circle cx="108" cy="135" r="2.45" fill="#135e7a" stroke="#1a1a1a" stroke-width="0.9"/>
<circle cx="108.5" cy="153.7" r="2.45" fill="#135e7a" stroke="#1a1a1a" stroke-width="0.9"/>
<circle cx="108.7" cy="148.6" r="2.45" fill="#135e7a" stroke="#1a1a1a" stroke-width="0.9"/>
<circle cx="110.6" cy="136.1" r="2.45" fill="#135e7a" stroke="#1a1a1a" stroke-width="0.9"/>
<circle cx="111.5" cy="154.8" r="2.45" fill="#135e7a" stroke="#1a1a1a" stroke-width="0.9"/>
<circle cx="113.4" cy="137.1" r="2.45" fill="#135e7a" stroke="#1a1a1a" stroke-width="0.9"/>
<circle cx="113.4" cy="156.7" r="2.45" fill="#135e7a" stroke="#1a1a1a" stroke-width="0.9"/>
<circle cx="114.9" cy="159.3" r="2.45" fill="#135e7a" stroke="#1a1a1a" stroke-width="0.9"/>
<circle cx="115.9" cy="138.6" r="2.45" fill="#135e7a" stroke="#1a1a1a" stroke-width="0.9"/>
<circle cx="118.7" cy="140" r="2.45" fill="#135e7a" stroke="#1a1a1a" stroke-width="0.9"/>
<circle cx="121.6" cy="141.4" r="2.45" fill="#135e7a" stroke="#1a1a1a" stroke-width="0.9"/>
<circle cx="121.6" cy="169.3" r="2.45" fill="#135e7a" stroke="#1a1a1a" stroke-width="0.9"/>
<circle cx="124.4" cy="142.1" r="2.45" fill="#135e7a" stroke="#1a1a1a" stroke-width="0.9"/>
<circle cx="125.1" cy="146.4" r="2.45" fill="#135e7a" stroke="#1a1a1a" stroke-width="0.9"/>
<circle cx="125.9" cy="152.1" r="2.45" fill="#135e7a" stroke="#1a1a1a" stroke-width="0.9"/>
<circle cx="127.3" cy="140.7" r="2.45" fill="#135e7a" stroke="#1a1a1a" stroke-width="0.9"/>
<circle cx="129.4" cy="152.9" r="2.45" fill="#135e7a" stroke="#1a1a1a" stroke-width="0.9"/>
<circle cx="129.4" cy="163.6" r="2.45" fill="#135e7a" stroke="#1a1a1a" stroke-width="0.9"/>
<circle cx="130.1" cy="138.6" r="2.45" fill="#135e7a" stroke="#1a1a1a" stroke-width="0.9"/>
<circle cx="130.9" cy="159.3" r="2.45" fill="#135e7a" stroke="#1a1a1a" stroke-width="0.9"/>
<circle cx="133" cy="135.7" r="2.45" fill="#135e7a" stroke="#1a1a1a" stroke-width="0.9"/>
<circle cx="133" cy="153.6" r="2.45" fill="#135e7a" stroke="#1a1a1a" stroke-width="0.9"/>
<circle cx="133.7" cy="163.6" r="2.45" fill="#135e7a" stroke="#1a1a1a" stroke-width="0.9"/>
<circle cx="134.4" cy="130.7" r="2.45" fill="#135e7a" stroke="#1a1a1a" stroke-width="0.9"/>
<circle cx="136.6" cy="132.1" r="2.45" fill="#135e7a" stroke="#1a1a1a" stroke-width="0.9"/>
<circle cx="137.1" cy="135" r="2.45" fill="#135e7a" stroke="#1a1a1a" stroke-width="0.9"/>
<circle cx="137.9" cy="145" r="2.45" fill="#135e7a" stroke="#1a1a1a" stroke-width="0.9"/>
<circle cx="137.9" cy="161.4" r="2.45" fill="#135e7a" stroke="#1a1a1a" stroke-width="0.9"/>
<circle cx="139.6" cy="148.6" r="2.45" fill="#135e7a" stroke="#1a1a1a" stroke-width="0.9"/>
<circle cx="140.7" cy="155" r="2.45" fill="#135e7a" stroke="#1a1a1a" stroke-width="0.9"/>
<circle cx="144.7" cy="136.1" r="2.45" fill="#135e7a" stroke="#1a1a1a" stroke-width="0.9"/>
<circle cx="145.3" cy="142.1" r="2.45" fill="#135e7a" stroke="#1a1a1a" stroke-width="0.9"/>
<circle cx="149.3" cy="147.9" r="2.45" fill="#135e7a" stroke="#1a1a1a" stroke-width="0.9"/>
<circle cx="151.9" cy="136.4" r="2.45" fill="#135e7a" stroke="#1a1a1a" stroke-width="0.9"/>
<circle cx="153.6" cy="131.9" r="2.45" fill="#135e7a" stroke="#1a1a1a" stroke-width="0.9"/>
<circle cx="153.6" cy="147.9" r="2.45" fill="#135e7a" stroke="#1a1a1a" stroke-width="0.9"/>
<circle cx="153.6" cy="151.4" r="2.45" fill="#135e7a" stroke="#1a1a1a" stroke-width="0.9"/>
<circle cx="159" cy="139.3" r="2.45" fill="#135e7a" stroke="#1a1a1a" stroke-width="0.9"/>
<circle cx="159.6" cy="134.7" r="2.45" fill="#135e7a" stroke="#1a1a1a" stroke-width="0.9"/>
<circle cx="162.9" cy="137.9" r="2.45" fill="#135e7a" stroke="#1a1a1a" stroke-width="0.9"/>
<circle cx="165" cy="140.7" r="2.45" fill="#135e7a" stroke="#1a1a1a" stroke-width="0.9"/>
<circle cx="165.7" cy="147.9" r="2.45" fill="#135e7a" stroke="#1a1a1a" stroke-width="0.9"/>
<circle cx="166.4" cy="151.4" r="2.45" fill="#135e7a" stroke="#1a1a1a" stroke-width="0.9"/>
<circle cx="166.4" cy="154.3" r="2.45" fill="#135e7a" stroke="#1a1a1a" stroke-width="0.9"/>
<circle cx="168.6" cy="136.4" r="2.45" fill="#135e7a" stroke="#1a1a1a" stroke-width="0.9"/>
<circle cx="172.4" cy="139" r="2.45" fill="#135e7a" stroke="#1a1a1a" stroke-width="0.9"/>
<circle cx="175.7" cy="145.7" r="2.45" fill="#135e7a" stroke="#1a1a1a" stroke-width="0.9"/>
<circle cx="178.6" cy="140.7" r="2.45" fill="#135e7a" stroke="#1a1a1a" stroke-width="0.9"/>
<circle cx="179.6" cy="157.9" r="2.45" fill="#135e7a" stroke="#1a1a1a" stroke-width="0.9"/>
<circle cx="180" cy="148.6" r="2.45" fill="#135e7a" stroke="#1a1a1a" stroke-width="0.9"/>
<circle cx="180" cy="154.3" r="2.45" fill="#135e7a" stroke="#1a1a1a" stroke-width="0.9"/>
<circle cx="180.4" cy="144.3" r="2.45" fill="#135e7a" stroke="#1a1a1a" stroke-width="0.9"/>
<circle cx="186.6" cy="136.4" r="2.45" fill="#135e7a" stroke="#1a1a1a" stroke-width="0.9"/>
<circle cx="190.9" cy="146.4" r="2.45" fill="#135e7a" stroke="#1a1a1a" stroke-width="0.9"/>
<circle cx="194.9" cy="140.7" r="2.45" fill="#135e7a" stroke="#1a1a1a" stroke-width="0.9"/>
<circle cx="200.3" cy="144.3" r="2.45" fill="#135e7a" stroke="#1a1a1a" stroke-width="0.9"/>
<circle cx="200.3" cy="154.3" r="2.45" fill="#135e7a" stroke="#1a1a1a" stroke-width="0.9"/>
<circle cx="202.7" cy="151.4" r="2.45" fill="#135e7a" stroke="#1a1a1a" stroke-width="0.9"/>
<circle cx="203.7" cy="143.9" r="2.45" fill="#135e7a" stroke="#1a1a1a" stroke-width="0.9"/>
<circle cx="209.4" cy="145" r="2.45" fill="#135e7a" stroke="#1a1a1a" stroke-width="0.9"/>
<circle cx="211.7" cy="137.9" r="2.45" fill="#135e7a" stroke="#1a1a1a" stroke-width="0.9"/>
<circle cx="212.7" cy="152.1" r="2.45" fill="#135e7a" stroke="#1a1a1a" stroke-width="0.9"/>
<circle cx="213.7" cy="149.3" r="2.45" fill="#135e7a" stroke="#1a1a1a" stroke-width="0.9"/>
<circle cx="214.9" cy="144.3" r="2.45" fill="#135e7a" stroke="#1a1a1a" stroke-width="0.9"/>
<circle cx="217" cy="140" r="2.45" fill="#135e7a" stroke="#1a1a1a" stroke-width="0.9"/>
<circle cx="224.1" cy="142.1" r="2.45" fill="#135e7a" stroke="#1a1a1a" stroke-width="0.9"/>
<circle cx="238.5" cy="135.1" r="2.45" fill="#135e7a" stroke="#1a1a1a" stroke-width="0.9"/>
<circle cx="239.8" cy="137.7" r="2.45" fill="#135e7a" stroke="#1a1a1a" stroke-width="0.9"/>
<circle cx="250.9" cy="132.3" r="2.45" fill="#135e7a" stroke="#1a1a1a" stroke-width="0.9"/>
<circle cx="257.2" cy="131.2" r="2.45" fill="#135e7a" stroke="#1a1a1a" stroke-width="0.9"/>
<circle cx="262.8" cy="135.6" r="2.45" fill="#135e7a" stroke="#1a1a1a" stroke-width="0.9"/>
<circle cx="270.3" cy="134" r="2.45" fill="#135e7a" stroke="#1a1a1a" stroke-width="0.9"/>
<circle cx="278.6" cy="131.9" r="2.45" fill="#135e7a" stroke="#1a1a1a" stroke-width="0.9"/>
<circle cx="285.5" cy="135.1" r="2.45" fill="#135e7a" stroke="#1a1a1a" stroke-width="0.9"/>
<circle cx="291.2" cy="137.7" r="2.45" fill="#135e7a" stroke="#1a1a1a" stroke-width="0.9"/>
<circle cx="294.9" cy="134.3" r="2.45" fill="#135e7a" stroke="#1a1a1a" stroke-width="0.9"/>
<circle cx="342.5" cy="131.3" r="2.45" fill="#135e7a" stroke="#1a1a1a" stroke-width="0.9"/>
<circle cx="358.7" cy="136.5" r="2.45" fill="#135e7a" stroke="#1a1a1a" stroke-width="0.9"/>
<circle cx="380.4" cy="138.9" r="2.45" fill="#135e7a" stroke="#1a1a1a" stroke-width="0.9"/>
<circle cx="401.2" cy="134.3" r="2.45" fill="#135e7a" stroke="#1a1a1a" stroke-width="0.9"/>
<circle cx="416.8" cy="139.8" r="2.45" fill="#135e7a" stroke="#1a1a1a" stroke-width="0.9"/>
<circle cx="433.3" cy="136.8" r="2.45" fill="#135e7a" stroke="#1a1a1a" stroke-width="0.9"/>
<circle cx="476.8" cy="120" r="2.45" fill="#135e7a" stroke="#1a1a1a" stroke-width="0.9"/>
<circle cx="55.7" cy="143.4" r="2.45" fill="#0000ff" stroke="#1a1a1a" stroke-width="0.9"/>
<circle cx="74.3" cy="136.6" r="2.45" fill="#0000ff" stroke="#1a1a1a" stroke-width="0.9"/>
<circle cx="82.4" cy="145" r="2.45" fill="#0000ff" stroke="#1a1a1a" stroke-width="0.9"/>
<circle cx="92.4" cy="147.6" r="2.45" fill="#0000ff" stroke="#1a1a1a" stroke-width="0.9"/>
<circle cx="94.9" cy="162.9" r="2.45" fill="#0000ff" stroke="#1a1a1a" stroke-width="0.9"/>
<circle cx="96.6" cy="159.3" r="2.45" fill="#0000ff" stroke="#1a1a1a" stroke-width="0.9"/>
<circle cx="97.7" cy="152.1" r="2.45" fill="#0000ff" stroke="#1a1a1a" stroke-width="0.9"/>
<circle cx="98.7" cy="162.1" r="2.45" fill="#0000ff" stroke="#1a1a1a" stroke-width="0.9"/>
<circle cx="103.7" cy="151.4" r="2.45" fill="#0000ff" stroke="#1a1a1a" stroke-width="0.9"/>
<circle cx="103.7" cy="167.1" r="2.45" fill="#0000ff" stroke="#1a1a1a" stroke-width="0.9"/>
<circle cx="105.9" cy="151.4" r="2.45" fill="#0000ff" stroke="#1a1a1a" stroke-width="0.9"/>
<circle cx="107.6" cy="180.3" r="2.45" fill="#0000ff" stroke="#1a1a1a" stroke-width="0.9"/>
<circle cx="108" cy="156.4" r="2.45" fill="#0000ff" stroke="#1a1a1a" stroke-width="0.9"/>
<circle cx="110.9" cy="158.6" r="2.45" fill="#0000ff" stroke="#1a1a1a" stroke-width="0.9"/>
<circle cx="113.4" cy="160.7" r="2.45" fill="#0000ff" stroke="#1a1a1a" stroke-width="0.9"/>
<circle cx="114.4" cy="178" r="2.45" fill="#0000ff" stroke="#1a1a1a" stroke-width="0.9"/>
<circle cx="116.6" cy="160" r="2.45" fill="#0000ff" stroke="#1a1a1a" stroke-width="0.9"/>
<circle cx="119" cy="184.8" r="2.45" fill="#0000ff" stroke="#1a1a1a" stroke-width="0.9"/>
<circle cx="119.7" cy="159.3" r="2.45" fill="#0000ff" stroke="#1a1a1a" stroke-width="0.9"/>
<circle cx="122" cy="190.1" r="2.45" fill="#0000ff" stroke="#1a1a1a" stroke-width="0.9"/>
<circle cx="122.3" cy="161.4" r="2.45" fill="#0000ff" stroke="#1a1a1a" stroke-width="0.9"/>
<circle cx="123.5" cy="178" r="2.45" fill="#0000ff" stroke="#1a1a1a" stroke-width="0.9"/>
<circle cx="125.1" cy="162.9" r="2.45" fill="#0000ff" stroke="#1a1a1a" stroke-width="0.9"/>
<circle cx="128" cy="161.4" r="2.45" fill="#0000ff" stroke="#1a1a1a" stroke-width="0.9"/>
<circle cx="130.1" cy="158.6" r="2.45" fill="#0000ff" stroke="#1a1a1a" stroke-width="0.9"/>
<circle cx="131" cy="182.6" r="2.45" fill="#0000ff" stroke="#1a1a1a" stroke-width="0.9"/>
<circle cx="133.7" cy="156.4" r="2.45" fill="#0000ff" stroke="#1a1a1a" stroke-width="0.9"/>
<circle cx="136.4" cy="157.1" r="2.45" fill="#0000ff" stroke="#1a1a1a" stroke-width="0.9"/>
<circle cx="136.4" cy="180.7" r="2.45" fill="#0000ff" stroke="#1a1a1a" stroke-width="0.9"/>
<circle cx="137.9" cy="165" r="2.45" fill="#0000ff" stroke="#1a1a1a" stroke-width="0.9"/>
<circle cx="142.1" cy="166.4" r="2.45" fill="#0000ff" stroke="#1a1a1a" stroke-width="0.9"/>
<circle cx="144.3" cy="151.4" r="2.45" fill="#0000ff" stroke="#1a1a1a" stroke-width="0.9"/>
<circle cx="149.3" cy="168.6" r="2.45" fill="#0000ff" stroke="#1a1a1a" stroke-width="0.9"/>
<circle cx="151.9" cy="158.6" r="2.45" fill="#0000ff" stroke="#1a1a1a" stroke-width="0.9"/>
<circle cx="153.3" cy="139.3" r="2.45" fill="#0000ff" stroke="#1a1a1a" stroke-width="0.9"/>
<circle cx="154.3" cy="165" r="2.45" fill="#0000ff" stroke="#1a1a1a" stroke-width="0.9"/>
<circle cx="154.3" cy="169.3" r="2.45" fill="#0000ff" stroke="#1a1a1a" stroke-width="0.9"/>
<circle cx="160" cy="157.9" r="2.45" fill="#0000ff" stroke="#1a1a1a" stroke-width="0.9"/>
<circle cx="161.4" cy="165.7" r="2.45" fill="#0000ff" stroke="#1a1a1a" stroke-width="0.9"/>
<circle cx="162.9" cy="160.4" r="2.45" fill="#0000ff" stroke="#1a1a1a" stroke-width="0.9"/>
<circle cx="165" cy="165" r="2.45" fill="#0000ff" stroke="#1a1a1a" stroke-width="0.9"/>
<circle cx="165.7" cy="160.7" r="2.45" fill="#0000ff" stroke="#1a1a1a" stroke-width="0.9"/>
<circle cx="167.1" cy="168.6" r="2.45" fill="#0000ff" stroke="#1a1a1a" stroke-width="0.9"/>
<circle cx="168.6" cy="161.9" r="2.45" fill="#0000ff" stroke="#1a1a1a" stroke-width="0.9"/>
<circle cx="172.4" cy="160" r="2.45" fill="#0000ff" stroke="#1a1a1a" stroke-width="0.9"/>
<circle cx="175.7" cy="168.6" r="2.45" fill="#0000ff" stroke="#1a1a1a" stroke-width="0.9"/>
<circle cx="178.6" cy="162.1" r="2.45" fill="#0000ff" stroke="#1a1a1a" stroke-width="0.9"/>
<circle cx="180" cy="169.3" r="2.45" fill="#0000ff" stroke="#1a1a1a" stroke-width="0.9"/>
<circle cx="180" cy="175" r="2.45" fill="#0000ff" stroke="#1a1a1a" stroke-width="0.9"/>
<circle cx="186.6" cy="160.4" r="2.45" fill="#0000ff" stroke="#1a1a1a" stroke-width="0.9"/>
<circle cx="190.9" cy="171" r="2.45" fill="#0000ff" stroke="#1a1a1a" stroke-width="0.9"/>
<circle cx="194.9" cy="165.7" r="2.45" fill="#0000ff" stroke="#1a1a1a" stroke-width="0.9"/>
<circle cx="199.9" cy="171.4" r="2.45" fill="#0000ff" stroke="#1a1a1a" stroke-width="0.9"/>
<circle cx="200.3" cy="168.6" r="2.45" fill="#0000ff" stroke="#1a1a1a" stroke-width="0.9"/>
<circle cx="202.7" cy="175" r="2.45" fill="#0000ff" stroke="#1a1a1a" stroke-width="0.9"/>
<circle cx="203.7" cy="167.9" r="2.45" fill="#0000ff" stroke="#1a1a1a" stroke-width="0.9"/>
<circle cx="209.4" cy="169" r="2.45" fill="#0000ff" stroke="#1a1a1a" stroke-width="0.9"/>
<circle cx="211.7" cy="164.3" r="2.45" fill="#0000ff" stroke="#1a1a1a" stroke-width="0.9"/>
<circle cx="212.7" cy="175" r="2.45" fill="#0000ff" stroke="#1a1a1a" stroke-width="0.9"/>
<circle cx="214.9" cy="172.9" r="2.45" fill="#0000ff" stroke="#1a1a1a" stroke-width="0.9"/>
<circle cx="217" cy="163.3" r="2.45" fill="#0000ff" stroke="#1a1a1a" stroke-width="0.9"/>
<circle cx="224.1" cy="166.1" r="2.45" fill="#0000ff" stroke="#1a1a1a" stroke-width="0.9"/>
<circle cx="238.3" cy="160.1" r="2.45" fill="#0000ff" stroke="#1a1a1a" stroke-width="0.9"/>
<circle cx="239.1" cy="163.1" r="2.45" fill="#0000ff" stroke="#1a1a1a" stroke-width="0.9"/>
<circle cx="250.9" cy="157.2" r="2.45" fill="#0000ff" stroke="#1a1a1a" stroke-width="0.9"/>
<circle cx="257.3" cy="154.3" r="2.45" fill="#0000ff" stroke="#1a1a1a" stroke-width="0.9"/>
<circle cx="263" cy="157" r="2.45" fill="#0000ff" stroke="#1a1a1a" stroke-width="0.9"/>
<circle cx="270.3" cy="156.1" r="2.45" fill="#0000ff" stroke="#1a1a1a" stroke-width="0.9"/>
<circle cx="278.6" cy="154.7" r="2.45" fill="#0000ff" stroke="#1a1a1a" stroke-width="0.9"/>
<circle cx="285.5" cy="156.6" r="2.45" fill="#0000ff" stroke="#1a1a1a" stroke-width="0.9"/>
<circle cx="291.1" cy="157.5" r="2.45" fill="#0000ff" stroke="#1a1a1a" stroke-width="0.9"/>
<circle cx="294.7" cy="154.3" r="2.45" fill="#0000ff" stroke="#1a1a1a" stroke-width="0.9"/>
<circle cx="342.6" cy="154.7" r="2.45" fill="#0000ff" stroke="#1a1a1a" stroke-width="0.9"/>
<circle cx="358.8" cy="154.6" r="2.45" fill="#0000ff" stroke="#1a1a1a" stroke-width="0.9"/>
<circle cx="380.5" cy="154.2" r="2.45" fill="#0000ff" stroke="#1a1a1a" stroke-width="0.9"/>
<circle cx="401.2" cy="150.2" r="2.45" fill="#0000ff" stroke="#1a1a1a" stroke-width="0.9"/>
<circle cx="416.8" cy="148.1" r="2.45" fill="#0000ff" stroke="#1a1a1a" stroke-width="0.9"/>
<circle cx="433.3" cy="147.5" r="2.45" fill="#0000ff" stroke="#1a1a1a" stroke-width="0.9"/>
<circle cx="476.8" cy="124.3" r="2.45" fill="#0000ff" stroke="#1a1a1a" stroke-width="0.9"/>
<circle cx="55.7" cy="154.3" r="2.45" fill="#800080" stroke="#1a1a1a" stroke-width="0.9"/>
<circle cx="74.3" cy="145.3" r="2.45" fill="#800080" stroke="#1a1a1a" stroke-width="0.9"/>
<circle cx="82.4" cy="162.9" r="2.45" fill="#800080" stroke="#1a1a1a" stroke-width="0.9"/>
<circle cx="92.4" cy="167.1" r="2.45" fill="#800080" stroke="#1a1a1a" stroke-width="0.9"/>
<circle cx="95.3" cy="182.6" r="2.45" fill="#800080" stroke="#1a1a1a" stroke-width="0.9"/>
<circle cx="96.3" cy="178.8" r="2.45" fill="#800080" stroke="#1a1a1a" stroke-width="0.9"/>
<circle cx="96.6" cy="173.6" r="2.45" fill="#800080" stroke="#1a1a1a" stroke-width="0.9"/>
<circle cx="97.7" cy="167.1" r="2.45" fill="#800080" stroke="#1a1a1a" stroke-width="0.9"/>
<circle cx="98.6" cy="181.8" r="2.45" fill="#800080" stroke="#1a1a1a" stroke-width="0.9"/>
<circle cx="103" cy="172.9" r="2.45" fill="#800080" stroke="#1a1a1a" stroke-width="0.9"/>
<circle cx="104.6" cy="184.8" r="2.45" fill="#800080" stroke="#1a1a1a" stroke-width="0.9"/>
<circle cx="105.4" cy="189.4" r="2.45" fill="#800080" stroke="#1a1a1a" stroke-width="0.9"/>
<circle cx="105.9" cy="172.1" r="2.45" fill="#800080" stroke="#1a1a1a" stroke-width="0.9"/>
<circle cx="105.9" cy="175.7" r="2.45" fill="#800080" stroke="#1a1a1a" stroke-width="0.9"/>
<circle cx="107.3" cy="185.6" r="2.45" fill="#800080" stroke="#1a1a1a" stroke-width="0.9"/>
<circle cx="107.6" cy="197.7" r="2.45" fill="#800080" stroke="#1a1a1a" stroke-width="0.9"/>
<circle cx="108.4" cy="188.6" r="2.45" fill="#800080" stroke="#1a1a1a" stroke-width="0.9"/>
<circle cx="109.1" cy="193.1" r="2.45" fill="#800080" stroke="#1a1a1a" stroke-width="0.9"/>
<circle cx="109.4" cy="176.4" r="2.45" fill="#800080" stroke="#1a1a1a" stroke-width="0.9"/>
<circle cx="110.7" cy="181" r="2.45" fill="#800080" stroke="#1a1a1a" stroke-width="0.9"/>
<circle cx="112.9" cy="196.9" r="2.45" fill="#800080" stroke="#1a1a1a" stroke-width="0.9"/>
<circle cx="113.4" cy="202.2" r="2.45" fill="#800080" stroke="#1a1a1a" stroke-width="0.9"/>
<circle cx="114.4" cy="199.9" r="2.45" fill="#800080" stroke="#1a1a1a" stroke-width="0.9"/>
<circle cx="115.2" cy="183.3" r="2.45" fill="#800080" stroke="#1a1a1a" stroke-width="0.9"/>
<circle cx="117.5" cy="190.1" r="2.45" fill="#800080" stroke="#1a1a1a" stroke-width="0.9"/>
<circle cx="118.2" cy="198.4" r="2.45" fill="#800080" stroke="#1a1a1a" stroke-width="0.9"/>
<circle cx="118.2" cy="181.8" r="2.45" fill="#800080" stroke="#1a1a1a" stroke-width="0.9"/>
<circle cx="120.5" cy="198.4" r="2.45" fill="#800080" stroke="#1a1a1a" stroke-width="0.9"/>
<circle cx="121.5" cy="207.9" r="2.45" fill="#800080" stroke="#1a1a1a" stroke-width="0.9"/>
<circle cx="122" cy="181" r="2.45" fill="#800080" stroke="#1a1a1a" stroke-width="0.9"/>
<circle cx="122.7" cy="203.7" r="2.45" fill="#800080" stroke="#1a1a1a" stroke-width="0.9"/>
<circle cx="123.5" cy="200.7" r="2.45" fill="#800080" stroke="#1a1a1a" stroke-width="0.9"/>
<circle cx="125" cy="183.3" r="2.45" fill="#800080" stroke="#1a1a1a" stroke-width="0.9"/>
<circle cx="125.9" cy="177.1" r="2.45" fill="#800080" stroke="#1a1a1a" stroke-width="0.9"/>
<circle cx="128" cy="187.8" r="2.45" fill="#800080" stroke="#1a1a1a" stroke-width="0.9"/>
<circle cx="129.4" cy="175" r="2.45" fill="#800080" stroke="#1a1a1a" stroke-width="0.9"/>
<circle cx="130.3" cy="194.6" r="2.45" fill="#800080" stroke="#1a1a1a" stroke-width="0.9"/>
<circle cx="131.6" cy="174.3" r="2.45" fill="#800080" stroke="#1a1a1a" stroke-width="0.9"/>
<circle cx="133.3" cy="197.7" r="2.45" fill="#800080" stroke="#1a1a1a" stroke-width="0.9"/>
<circle cx="133.3" cy="201.4" r="2.45" fill="#800080" stroke="#1a1a1a" stroke-width="0.9"/>
<circle cx="133.3" cy="178.8" r="2.45" fill="#800080" stroke="#1a1a1a" stroke-width="0.9"/>
<circle cx="135.1" cy="171.4" r="2.45" fill="#800080" stroke="#1a1a1a" stroke-width="0.9"/>
<circle cx="136.3" cy="203.7" r="2.45" fill="#800080" stroke="#1a1a1a" stroke-width="0.9"/>
<circle cx="137.1" cy="175" r="2.45" fill="#800080" stroke="#1a1a1a" stroke-width="0.9"/>
<circle cx="137.9" cy="183.6" r="2.45" fill="#800080" stroke="#1a1a1a" stroke-width="0.9"/>
<circle cx="138.1" cy="194.3" r="2.45" fill="#800080" stroke="#1a1a1a" stroke-width="0.9"/>
<circle cx="138.1" cy="201.4" r="2.45" fill="#800080" stroke="#1a1a1a" stroke-width="0.9"/>
<circle cx="139" cy="197.9" r="2.45" fill="#800080" stroke="#1a1a1a" stroke-width="0.9"/>
<circle cx="142.1" cy="178.6" r="2.45" fill="#800080" stroke="#1a1a1a" stroke-width="0.9"/>
<circle cx="144.3" cy="165" r="2.45" fill="#800080" stroke="#1a1a1a" stroke-width="0.9"/>
<circle cx="145.7" cy="175.7" r="2.45" fill="#800080" stroke="#1a1a1a" stroke-width="0.9"/>
<circle cx="146.1" cy="184.3" r="2.45" fill="#800080" stroke="#1a1a1a" stroke-width="0.9"/>
<circle cx="150" cy="185" r="2.45" fill="#800080" stroke="#1a1a1a" stroke-width="0.9"/>
<circle cx="151.9" cy="174.3" r="2.45" fill="#800080" stroke="#1a1a1a" stroke-width="0.9"/>
<circle cx="153.3" cy="143.6" r="2.45" fill="#800080" stroke="#1a1a1a" stroke-width="0.9"/>
<circle cx="153.6" cy="182.1" r="2.45" fill="#800080" stroke="#1a1a1a" stroke-width="0.9"/>
<circle cx="154.3" cy="185.7" r="2.45" fill="#800080" stroke="#1a1a1a" stroke-width="0.9"/>
<circle cx="155" cy="177.9" r="2.45" fill="#800080" stroke="#1a1a1a" stroke-width="0.9"/>
<circle cx="158.6" cy="182.1" r="2.45" fill="#800080" stroke="#1a1a1a" stroke-width="0.9"/>
<circle cx="159.3" cy="177.9" r="2.45" fill="#800080" stroke="#1a1a1a" stroke-width="0.9"/>
<circle cx="163.6" cy="170.7" r="2.45" fill="#800080" stroke="#1a1a1a" stroke-width="0.9"/>
<circle cx="164.3" cy="176.4" r="2.45" fill="#800080" stroke="#1a1a1a" stroke-width="0.9"/>
<circle cx="164.3" cy="180.7" r="2.45" fill="#800080" stroke="#1a1a1a" stroke-width="0.9"/>
<circle cx="166.4" cy="185.7" r="2.45" fill="#800080" stroke="#1a1a1a" stroke-width="0.9"/>
<circle cx="166.7" cy="195" r="2.45" fill="#800080" stroke="#1a1a1a" stroke-width="0.9"/>
<circle cx="166.7" cy="197.1" r="2.45" fill="#800080" stroke="#1a1a1a" stroke-width="0.9"/>
<circle cx="167.1" cy="189.3" r="2.45" fill="#800080" stroke="#1a1a1a" stroke-width="0.9"/>
<circle cx="168.6" cy="177.9" r="2.45" fill="#800080" stroke="#1a1a1a" stroke-width="0.9"/>
<circle cx="172.4" cy="176.4" r="2.45" fill="#800080" stroke="#1a1a1a" stroke-width="0.9"/>
<circle cx="173.6" cy="182.9" r="2.45" fill="#800080" stroke="#1a1a1a" stroke-width="0.9"/>
<circle cx="176.4" cy="183.6" r="2.45" fill="#800080" stroke="#1a1a1a" stroke-width="0.9"/>
<circle cx="179.6" cy="195.7" r="2.45" fill="#800080" stroke="#1a1a1a" stroke-width="0.9"/>
<circle cx="180" cy="185" r="2.45" fill="#800080" stroke="#1a1a1a" stroke-width="0.9"/>
<circle cx="180" cy="187.9" r="2.45" fill="#800080" stroke="#1a1a1a" stroke-width="0.9"/>
<circle cx="180" cy="190.3" r="2.45" fill="#800080" stroke="#1a1a1a" stroke-width="0.9"/>
<circle cx="186.6" cy="177.9" r="2.45" fill="#800080" stroke="#1a1a1a" stroke-width="0.9"/>
<circle cx="190.9" cy="190.7" r="2.45" fill="#800080" stroke="#1a1a1a" stroke-width="0.9"/>
<circle cx="194.9" cy="187.4" r="2.45" fill="#800080" stroke="#1a1a1a" stroke-width="0.9"/>
<circle cx="199.9" cy="191.1" r="2.45" fill="#800080" stroke="#1a1a1a" stroke-width="0.9"/>
<circle cx="200.3" cy="188.6" r="2.45" fill="#800080" stroke="#1a1a1a" stroke-width="0.9"/>
<circle cx="202.7" cy="192.9" r="2.45" fill="#800080" stroke="#1a1a1a" stroke-width="0.9"/>
<circle cx="203.7" cy="187.1" r="2.45" fill="#800080" stroke="#1a1a1a" stroke-width="0.9"/>
<circle cx="209.4" cy="190" r="2.45" fill="#800080" stroke="#1a1a1a" stroke-width="0.9"/>
<circle cx="211.7" cy="184.5" r="2.45" fill="#800080" stroke="#1a1a1a" stroke-width="0.9"/>
<circle cx="212.7" cy="194" r="2.45" fill="#800080" stroke="#1a1a1a" stroke-width="0.9"/>
<circle cx="214.9" cy="191.1" r="2.45" fill="#800080" stroke="#1a1a1a" stroke-width="0.9"/>
<circle cx="217" cy="185" r="2.45" fill="#800080" stroke="#1a1a1a" stroke-width="0.9"/>
<circle cx="224.1" cy="181.4" r="2.45" fill="#800080" stroke="#1a1a1a" stroke-width="0.9"/>
<circle cx="224.9" cy="183.6" r="2.45" fill="#800080" stroke="#1a1a1a" stroke-width="0.9"/>
<circle cx="238.3" cy="178.1" r="2.45" fill="#800080" stroke="#1a1a1a" stroke-width="0.9"/>
<circle cx="239.1" cy="180.2" r="2.45" fill="#800080" stroke="#1a1a1a" stroke-width="0.9"/>
<circle cx="250.9" cy="172.8" r="2.45" fill="#800080" stroke="#1a1a1a" stroke-width="0.9"/>
<circle cx="257.2" cy="170.4" r="2.45" fill="#800080" stroke="#1a1a1a" stroke-width="0.9"/>
<circle cx="263.2" cy="173.5" r="2.45" fill="#800080" stroke="#1a1a1a" stroke-width="0.9"/>
<circle cx="270.4" cy="172.2" r="2.45" fill="#800080" stroke="#1a1a1a" stroke-width="0.9"/>
<circle cx="278.7" cy="171.4" r="2.45" fill="#800080" stroke="#1a1a1a" stroke-width="0.9"/>
<circle cx="285.6" cy="173" r="2.45" fill="#800080" stroke="#1a1a1a" stroke-width="0.9"/>
<circle cx="291" cy="174.8" r="2.45" fill="#800080" stroke="#1a1a1a" stroke-width="0.9"/>
<circle cx="294.6" cy="170.9" r="2.45" fill="#800080" stroke="#1a1a1a" stroke-width="0.9"/>
<circle cx="342.6" cy="162.4" r="2.45" fill="#800080" stroke="#1a1a1a" stroke-width="0.9"/>
<circle cx="358.8" cy="158.8" r="2.45" fill="#800080" stroke="#1a1a1a" stroke-width="0.9"/>
<circle cx="380.5" cy="153.9" r="2.45" fill="#800080" stroke="#1a1a1a" stroke-width="0.9"/>
<circle cx="401.2" cy="144.1" r="2.45" fill="#800080" stroke="#1a1a1a" stroke-width="0.9"/>
<circle cx="416.8" cy="140.2" r="2.45" fill="#800080" stroke="#1a1a1a" stroke-width="0.9"/>
<circle cx="433.3" cy="138.3" r="2.45" fill="#800080" stroke="#1a1a1a" stroke-width="0.9"/>
<circle cx="476.8" cy="122.4" r="2.45" fill="#800080" stroke="#1a1a1a" stroke-width="0.9"/>
<line x1="46.5" y1="0" x2="46.5" y2="215.9" stroke="#3a3a3a" stroke-width="1"/>
<line x1="46" y1="215.4" x2="485.8" y2="215.4" stroke="#3a3a3a" stroke-width="1"/>
<line x1="68.59" y1="215.4" x2="68.59" y2="213.4" stroke="#3a3a3a" stroke-width="0.9"/>
<line x1="87.54" y1="215.4" x2="87.54" y2="213.4" stroke="#3a3a3a" stroke-width="0.9"/>
<line x1="100.98" y1="215.4" x2="100.98" y2="213.4" stroke="#3a3a3a" stroke-width="0.9"/>
<line x1="111.41" y1="215.4" x2="111.41" y2="213.4" stroke="#3a3a3a" stroke-width="0.9"/>
<line x1="119.93" y1="215.4" x2="119.93" y2="213.4" stroke="#3a3a3a" stroke-width="0.9"/>
<line x1="127.13" y1="215.4" x2="127.13" y2="213.4" stroke="#3a3a3a" stroke-width="0.9"/>
<line x1="133.37" y1="215.4" x2="133.37" y2="213.4" stroke="#3a3a3a" stroke-width="0.9"/>
<line x1="138.88" y1="215.4" x2="138.88" y2="213.4" stroke="#3a3a3a" stroke-width="0.9"/>
<line x1="143.8" y1="215.4" x2="143.8" y2="211.9" stroke="#3a3a3a" stroke-width="0.9"/>
<line x1="176.19" y1="215.4" x2="176.19" y2="213.4" stroke="#3a3a3a" stroke-width="0.9"/>
<line x1="195.14" y1="215.4" x2="195.14" y2="213.4" stroke="#3a3a3a" stroke-width="0.9"/>
<line x1="208.58" y1="215.4" x2="208.58" y2="213.4" stroke="#3a3a3a" stroke-width="0.9"/>
<line x1="219.01" y1="215.4" x2="219.01" y2="213.4" stroke="#3a3a3a" stroke-width="0.9"/>
<line x1="227.53" y1="215.4" x2="227.53" y2="213.4" stroke="#3a3a3a" stroke-width="0.9"/>
<line x1="234.73" y1="215.4" x2="234.73" y2="213.4" stroke="#3a3a3a" stroke-width="0.9"/>
<line x1="240.97" y1="215.4" x2="240.97" y2="213.4" stroke="#3a3a3a" stroke-width="0.9"/>
<line x1="246.48" y1="215.4" x2="246.48" y2="213.4" stroke="#3a3a3a" stroke-width="0.9"/>
<line x1="251.4" y1="215.4" x2="251.4" y2="211.9" stroke="#3a3a3a" stroke-width="0.9"/>
<line x1="283.79" y1="215.4" x2="283.79" y2="213.4" stroke="#3a3a3a" stroke-width="0.9"/>
<line x1="302.74" y1="215.4" x2="302.74" y2="213.4" stroke="#3a3a3a" stroke-width="0.9"/>
<line x1="316.18" y1="215.4" x2="316.18" y2="213.4" stroke="#3a3a3a" stroke-width="0.9"/>
<line x1="326.61" y1="215.4" x2="326.61" y2="213.4" stroke="#3a3a3a" stroke-width="0.9"/>
<line x1="335.13" y1="215.4" x2="335.13" y2="213.4" stroke="#3a3a3a" stroke-width="0.9"/>
<line x1="342.33" y1="215.4" x2="342.33" y2="213.4" stroke="#3a3a3a" stroke-width="0.9"/>
<line x1="348.57" y1="215.4" x2="348.57" y2="213.4" stroke="#3a3a3a" stroke-width="0.9"/>
<line x1="354.08" y1="215.4" x2="354.08" y2="213.4" stroke="#3a3a3a" stroke-width="0.9"/>
<line x1="359" y1="215.4" x2="359" y2="211.9" stroke="#3a3a3a" stroke-width="0.9"/>
<line x1="391.39" y1="215.4" x2="391.39" y2="213.4" stroke="#3a3a3a" stroke-width="0.9"/>
<line x1="410.34" y1="215.4" x2="410.34" y2="213.4" stroke="#3a3a3a" stroke-width="0.9"/>
<line x1="423.78" y1="215.4" x2="423.78" y2="213.4" stroke="#3a3a3a" stroke-width="0.9"/>
<line x1="434.21" y1="215.4" x2="434.21" y2="213.4" stroke="#3a3a3a" stroke-width="0.9"/>
<line x1="442.73" y1="215.4" x2="442.73" y2="213.4" stroke="#3a3a3a" stroke-width="0.9"/>
<line x1="449.93" y1="215.4" x2="449.93" y2="213.4" stroke="#3a3a3a" stroke-width="0.9"/>
<line x1="456.17" y1="215.4" x2="456.17" y2="213.4" stroke="#3a3a3a" stroke-width="0.9"/>
<line x1="461.68" y1="215.4" x2="461.68" y2="213.4" stroke="#3a3a3a" stroke-width="0.9"/>
<line x1="466.6" y1="215.4" x2="466.6" y2="211.9" stroke="#3a3a3a" stroke-width="0.9"/>
<line x1="46.5" y1="215.45" x2="48.5" y2="215.45" stroke="#3a3a3a" stroke-width="0.9"/>
<line x1="46.5" y1="199.65" x2="48.5" y2="199.65" stroke="#3a3a3a" stroke-width="0.9"/>
<line x1="46.5" y1="188.45" x2="48.5" y2="188.45" stroke="#3a3a3a" stroke-width="0.9"/>
<line x1="46.5" y1="179.75" x2="48.5" y2="179.75" stroke="#3a3a3a" stroke-width="0.9"/>
<line x1="46.5" y1="172.65" x2="48.5" y2="172.65" stroke="#3a3a3a" stroke-width="0.9"/>
<line x1="46.5" y1="166.64" x2="48.5" y2="166.64" stroke="#3a3a3a" stroke-width="0.9"/>
<line x1="46.5" y1="161.44" x2="48.5" y2="161.44" stroke="#3a3a3a" stroke-width="0.9"/>
<line x1="46.5" y1="156.85" x2="48.5" y2="156.85" stroke="#3a3a3a" stroke-width="0.9"/>
<line x1="46.5" y1="152.75" x2="50" y2="152.75" stroke="#3a3a3a" stroke-width="0.9"/>
<line x1="46.5" y1="125.75" x2="48.5" y2="125.75" stroke="#3a3a3a" stroke-width="0.9"/>
<line x1="46.5" y1="109.95" x2="48.5" y2="109.95" stroke="#3a3a3a" stroke-width="0.9"/>
<line x1="46.5" y1="98.75" x2="48.5" y2="98.75" stroke="#3a3a3a" stroke-width="0.9"/>
<line x1="46.5" y1="90.05" x2="48.5" y2="90.05" stroke="#3a3a3a" stroke-width="0.9"/>
<line x1="46.5" y1="82.95" x2="48.5" y2="82.95" stroke="#3a3a3a" stroke-width="0.9"/>
<line x1="46.5" y1="76.94" x2="48.5" y2="76.94" stroke="#3a3a3a" stroke-width="0.9"/>
<line x1="46.5" y1="71.74" x2="48.5" y2="71.74" stroke="#3a3a3a" stroke-width="0.9"/>
<line x1="46.5" y1="67.15" x2="48.5" y2="67.15" stroke="#3a3a3a" stroke-width="0.9"/>
<line x1="46.5" y1="63.05" x2="50" y2="63.05" stroke="#3a3a3a" stroke-width="0.9"/>
<line x1="46.5" y1="36.05" x2="48.5" y2="36.05" stroke="#3a3a3a" stroke-width="0.9"/>
<line x1="46.5" y1="20.25" x2="48.5" y2="20.25" stroke="#3a3a3a" stroke-width="0.9"/>
<line x1="46.5" y1="9.05" x2="48.5" y2="9.05" stroke="#3a3a3a" stroke-width="0.9"/>
<line x1="46.5" y1="0.35" x2="48.5" y2="0.35" stroke="#3a3a3a" stroke-width="0.9"/>
<text x="143.8" y="228.3" font-family="'DejaVu Sans', 'Liberation Sans', sans-serif" font-size="8.0" text-anchor="middle" fill="#000" stroke="#000" stroke-width="0.2">1 µm</text>
<text x="251.4" y="228.3" font-family="'DejaVu Sans', 'Liberation Sans', sans-serif" font-size="8.0" text-anchor="middle" fill="#000" stroke="#000" stroke-width="0.2">10 µm</text>
<text x="359" y="228.3" font-family="'DejaVu Sans', 'Liberation Sans', sans-serif" font-size="8.0" text-anchor="middle" fill="#000" stroke="#000" stroke-width="0.2">100 µm</text>
<text x="466.6" y="228.3" font-family="'DejaVu Sans', 'Liberation Sans', sans-serif" font-size="8.0" text-anchor="middle" fill="#000" stroke="#000" stroke-width="0.2">1 mm</text>
<text x="19.7" y="66.85" font-family="'DejaVu Serif', 'Liberation Serif', serif" font-size="7.6" fill="#000" stroke="#000" stroke-width="0.2">10</text>
<text x="28.3" y="61.75" font-family="'DejaVu Serif', 'Liberation Serif', serif" font-size="6.0" fill="#000" stroke="#000" stroke-width="0.15">−1</text>
<text x="19.7" y="156.55" font-family="'DejaVu Serif', 'Liberation Serif', serif" font-size="7.6" fill="#000" stroke="#000" stroke-width="0.2">10</text>
<text x="28.3" y="151.45" font-family="'DejaVu Serif', 'Liberation Serif', serif" font-size="6.0" fill="#000" stroke="#000" stroke-width="0.15">−2</text>
<text x="266.2" y="243" font-family="'DejaVu Sans', 'Liberation Sans', sans-serif" font-size="10.8" text-anchor="middle" fill="#000" stroke="#000" stroke-width="0.25">Filter Effective Wavelength</text>
<text transform="translate(8.2 108.3) rotate(-90)" x="0" y="0" font-family="'DejaVu Sans', 'Liberation Sans', sans-serif" font-size="11.0" text-anchor="middle" fill="#000" stroke="#000" stroke-width="0.25">Test Set <tspan font-family="'Liberation Serif', 'DejaVu Serif', serif" font-style="italic">σ</tspan> <tspan font-family="'Liberation Serif', 'DejaVu Serif', serif">[arsinh</tspan> mag]</text>
<text x="406.0" y="24.9" font-family="'Liberation Serif', 'DejaVu Serif', serif" font-size="11.6" font-style="italic" fill="#4a4a4a">σ</text>
<text x="414.4" y="24.9" font-family="'Liberation Serif', 'DejaVu Serif', serif" font-size="11.6" fill="#4a4a4a" textLength="8.4" lengthAdjust="spacingAndGlyphs">&gt;</text>
<text x="426.3" y="24.9" font-family="'Liberation Serif', 'DejaVu Serif', serif" font-size="11.6" fill="#4a4a4a">5%</text>
<text x="406.0" y="192.8" font-family="'Liberation Serif', 'DejaVu Serif', serif" font-size="11.6" font-style="italic" fill="#4a4a4a">σ</text>
<text x="414.4" y="192.8" font-family="'Liberation Serif', 'DejaVu Serif', serif" font-size="11.6" fill="#4a4a4a" textLength="8.4" lengthAdjust="spacingAndGlyphs">&lt;</text>
<text x="426.3" y="192.8" font-family="'Liberation Serif', 'DejaVu Serif', serif" font-size="11.6" fill="#4a4a4a">5%</text>
<rect x="505.0" y="7.55" width="115.6" height="68.1" rx="0.8" fill="#ffffff" stroke="#3a3a3a" stroke-width="1.2"/>
<line x1="511" y1="16.1" x2="549.8" y2="16.1" stroke="#a4a4a4" stroke-width="1.45" stroke-dasharray="5.9 2.65"/>
<text x="555.4" y="18.9" font-family="'DejaVu Sans', 'Liberation Sans', sans-serif" font-size="7.8" fill="#000" stroke="#000" stroke-width="0.2">5% Flux Error</text>
<line x1="511" y1="24.7" x2="549.8" y2="24.7" stroke="#ff5a5a" stroke-width="1.4" stroke-dasharray="1.1 0.9"/>
<text x="555.4" y="27.5" font-family="'DejaVu Sans', 'Liberation Sans', sans-serif" font-size="7.8" fill="#000" stroke="#000" stroke-width="0.2">32 Node</text>
<line x1="511" y1="33.3" x2="549.8" y2="33.3" stroke="#ffa640" stroke-width="1.4" stroke-dasharray="1.1 0.9"/>
<text x="555.4" y="36.1" font-family="'DejaVu Sans', 'Liberation Sans', sans-serif" font-size="7.8" fill="#000" stroke="#000" stroke-width="0.2">64 Node</text>
<line x1="511" y1="41.9" x2="549.8" y2="41.9" stroke="#a5c070" stroke-width="1.4" stroke-dasharray="5 2.6 1.3 2.6"/>
<text x="555.4" y="44.7" font-family="'DejaVu Sans', 'Liberation Sans', sans-serif" font-size="7.8" fill="#000" stroke="#000" stroke-width="0.2">128 Node</text>
<line x1="511" y1="50.5" x2="549.8" y2="50.5" stroke="#3a7f98" stroke-width="1.0"/>
<text x="555.4" y="53.3" font-family="'DejaVu Sans', 'Liberation Sans', sans-serif" font-size="7.8" fill="#000" stroke="#000" stroke-width="0.2">256 Node</text>
<line x1="511" y1="59.1" x2="549.8" y2="59.1" stroke="#8c8cff" stroke-width="1.7"/>
<text x="555.4" y="61.9" font-family="'DejaVu Sans', 'Liberation Sans', sans-serif" font-size="7.8" fill="#000" stroke="#000" stroke-width="0.2">512 Node</text>
<line x1="511" y1="67.7" x2="549.8" y2="67.7" stroke="#b050b0" stroke-width="1.0"/>
<text x="555.4" y="70.5" font-family="'DejaVu Sans', 'Liberation Sans', sans-serif" font-size="7.8" fill="#000" stroke="#000" stroke-width="0.2">1024 Node</text>
</svg>
</body></html>
